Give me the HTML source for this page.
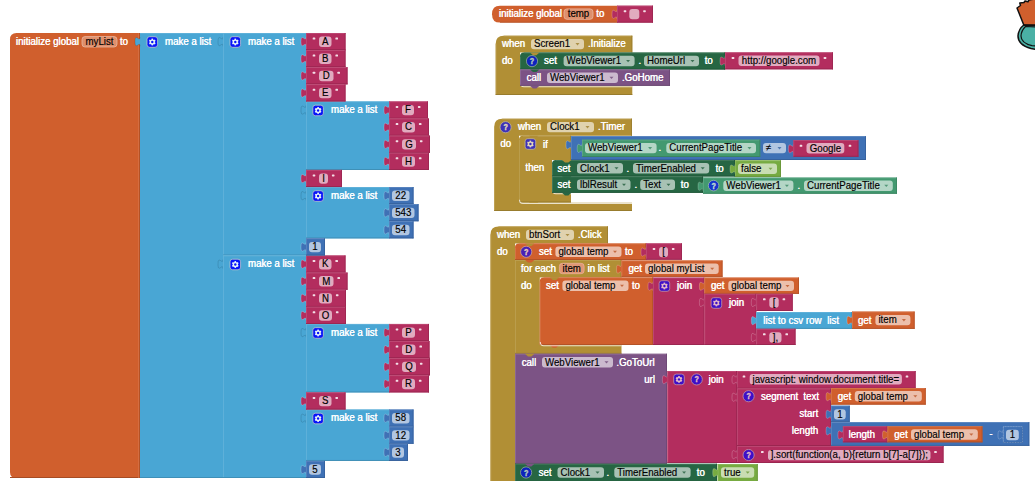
<!DOCTYPE html>
<html><head><meta charset="utf-8"><style>
html,body{margin:0;padding:0;background:#fff;width:1035px;height:481px;overflow:hidden}
svg{display:block}
text{font-family:"Liberation Sans",sans-serif}
</style></head><body>
<svg width="1035" height="481" viewBox="0 0 1035 481">
<path d="M16.5,33 L140,33 L140,478 L16,478 Q10,478 10,472 L10,39.5 Q10,33 16.5,33 Z" fill="#D05F2D" /><rect x="10" y="477" width="130" height="1" fill="#a64c24" /><rect x="138.2" y="33" width="0.9" height="445" fill="#d67246" /><rect x="139.1" y="33" width="0.9" height="445" fill="#b15126" /><rect x="140" y="33" width="1" height="445" fill="#5fb1d9" /><text transform="translate(15.82,44.6) scale(0.99,1.08)" fill="#fff" font-size="9.8" >initialize global</text><text transform="translate(16.18,44.6) scale(0.99,1.08)" fill="#fff" font-size="9.8" >initialize global</text><rect x="82" y="36.6" width="35" height="10.4" rx="3" ry="3" fill="#de8f6c" stroke="#eab7a0" stroke-width="0.8"/><text transform="translate(99.5,45) scale(0.98,1.08)" fill="#000" stroke="#000" stroke-width="0.15" font-size="9.9" text-anchor="middle" >myList</text><text transform="translate(119.82,44.6) scale(0.99,1.08)" fill="#fff" font-size="9.8" >to</text><text transform="translate(120.18,44.6) scale(0.99,1.08)" fill="#fff" font-size="9.8" >to</text><rect x="140" y="33" width="83" height="445" fill="#49A6D4" /><rect x="140" y="33" width="83" height="0.8" fill="#64b3da" /><rect x="140" y="477.1" width="83" height="0.9" fill="#3e8db4" /><path d="M140,37 C140,43.2 135,32.1 135,41.6 C135,51.2 140,40 140,46.3 L141,46.3 L141,37 Z" fill="#49A6D4" /><path d="M140,37 C140,43.2 135,32.1 135,41.6 C135,51.2 140,40 140,46.3" fill="none" stroke="#000" stroke-opacity="0.2" stroke-width="0.6"/><g transform="translate(146.6,36.3)" opacity="0.88"><rect x="0.4" y="0.4" width="10.6" height="10.6" rx="2.6" fill="#00f" stroke="#ccc" stroke-width="0.8"/><g transform="translate(5.7,5.7)"><rect x="-0.8" y="-3.4" width="1.6" height="6.8" fill="#fff" transform="rotate(0)"/><rect x="-0.8" y="-3.4" width="1.6" height="6.8" fill="#fff" transform="rotate(60)"/><rect x="-0.8" y="-3.4" width="1.6" height="6.8" fill="#fff" transform="rotate(120)"/><circle r="2.6" fill="#fff"/><circle r="1.2" fill="#00f"/></g></g><text transform="translate(164.82,44.6) scale(0.99,1.08)" fill="#fff" font-size="9.8" >make a list</text><text transform="translate(165.18,44.6) scale(0.99,1.08)" fill="#fff" font-size="9.8" >make a list</text><path d="M223,37 C223,43.2 218,32.1 218,41.6 C218,51.2 223,40 223,46.3 L224,46.3 L224,37 Z" fill="#49A6D4" /><path d="M223,37 C223,43.2 218,32.1 218,41.6 C218,51.2 223,40 223,46.3" fill="none" stroke="#000" stroke-opacity="0.2" stroke-width="0.6"/><rect x="223" y="33" width="83" height="222.49" fill="#49A6D4" /><rect x="223" y="33" width="83" height="0.8" fill="#64b3da" /><rect x="223" y="33" width="0.8" height="222.49" fill="#64b3da" /><rect x="223" y="254.59" width="83" height="0.9" fill="#3e8db4" /><g transform="translate(229.6,36.3)" opacity="0.88"><rect x="0.4" y="0.4" width="10.6" height="10.6" rx="2.6" fill="#00f" stroke="#ccc" stroke-width="0.8"/><g transform="translate(5.7,5.7)"><rect x="-0.8" y="-3.4" width="1.6" height="6.8" fill="#fff" transform="rotate(0)"/><rect x="-0.8" y="-3.4" width="1.6" height="6.8" fill="#fff" transform="rotate(60)"/><rect x="-0.8" y="-3.4" width="1.6" height="6.8" fill="#fff" transform="rotate(120)"/><circle r="2.6" fill="#fff"/><circle r="1.2" fill="#00f"/></g></g><text transform="translate(247.82,44.6) scale(0.99,1.08)" fill="#fff" font-size="9.8" >make a list</text><text transform="translate(248.18,44.6) scale(0.99,1.08)" fill="#fff" font-size="9.8" >make a list</text><path d="M223,259.5 C223,265.69 218,254.59 218,264.09 C218,273.69 223,262.5 223,268.79 L224,268.79 L224,259.5 Z" fill="#49A6D4" /><path d="M223,259.5 C223,265.69 218,254.59 218,264.09 C218,273.69 223,262.5 223,268.79" fill="none" stroke="#000" stroke-opacity="0.2" stroke-width="0.6"/><rect x="223" y="255.49" width="83" height="222.51" fill="#49A6D4" /><rect x="223" y="255.49" width="83" height="0.8" fill="#64b3da" /><rect x="223" y="255.49" width="0.8" height="222.51" fill="#64b3da" /><rect x="223" y="477.1" width="83" height="0.9" fill="#3e8db4" /><g transform="translate(229.6,258.79)" opacity="0.88"><rect x="0.4" y="0.4" width="10.6" height="10.6" rx="2.6" fill="#00f" stroke="#ccc" stroke-width="0.8"/><g transform="translate(5.7,5.7)"><rect x="-0.8" y="-3.4" width="1.6" height="6.8" fill="#fff" transform="rotate(0)"/><rect x="-0.8" y="-3.4" width="1.6" height="6.8" fill="#fff" transform="rotate(60)"/><rect x="-0.8" y="-3.4" width="1.6" height="6.8" fill="#fff" transform="rotate(120)"/><circle r="2.6" fill="#fff"/><circle r="1.2" fill="#00f"/></g></g><text transform="translate(247.82,267.09) scale(0.99,1.08)" fill="#fff" font-size="9.8" >make a list</text><text transform="translate(248.18,267.09) scale(0.99,1.08)" fill="#fff" font-size="9.8" >make a list</text><path d="M306,105.46 C306,111.66 301,100.56 301,110.06 C301,119.66 306,108.46 306,114.76 L307,114.76 L307,105.46 Z" fill="#49A6D4" /><path d="M306,105.46 C306,111.66 301,100.56 301,110.06 C301,119.66 306,108.46 306,114.76" fill="none" stroke="#000" stroke-opacity="0.2" stroke-width="0.6"/><rect x="306" y="101.46" width="83" height="68.46" fill="#49A6D4" /><rect x="306" y="101.46" width="83" height="0.8" fill="#64b3da" /><rect x="306" y="101.46" width="0.8" height="68.46" fill="#64b3da" /><rect x="306" y="169.02" width="83" height="0.9" fill="#3e8db4" /><g transform="translate(312.4,104.76)" opacity="0.88"><rect x="0.4" y="0.4" width="10.6" height="10.6" rx="2.6" fill="#00f" stroke="#ccc" stroke-width="0.8"/><g transform="translate(5.7,5.7)"><rect x="-0.8" y="-3.4" width="1.6" height="6.8" fill="#fff" transform="rotate(0)"/><rect x="-0.8" y="-3.4" width="1.6" height="6.8" fill="#fff" transform="rotate(60)"/><rect x="-0.8" y="-3.4" width="1.6" height="6.8" fill="#fff" transform="rotate(120)"/><circle r="2.6" fill="#fff"/><circle r="1.2" fill="#00f"/></g></g><text transform="translate(330.82,113.06) scale(0.99,1.08)" fill="#fff" font-size="9.8" >make a list</text><text transform="translate(331.18,113.06) scale(0.99,1.08)" fill="#fff" font-size="9.8" >make a list</text><path d="M306,191.03 C306,197.23 301,186.13 301,195.63 C301,205.23 306,194.03 306,200.34 L307,200.34 L307,191.03 Z" fill="#49A6D4" /><path d="M306,191.03 C306,197.23 301,186.13 301,195.63 C301,205.23 306,194.03 306,200.34" fill="none" stroke="#000" stroke-opacity="0.2" stroke-width="0.6"/><rect x="306" y="187.03" width="83" height="51.34" fill="#49A6D4" /><rect x="306" y="187.03" width="83" height="0.8" fill="#64b3da" /><rect x="306" y="187.03" width="0.8" height="51.34" fill="#64b3da" /><rect x="306" y="237.48" width="83" height="0.9" fill="#3e8db4" /><g transform="translate(312.4,190.33)" opacity="0.88"><rect x="0.4" y="0.4" width="10.6" height="10.6" rx="2.6" fill="#00f" stroke="#ccc" stroke-width="0.8"/><g transform="translate(5.7,5.7)"><rect x="-0.8" y="-3.4" width="1.6" height="6.8" fill="#fff" transform="rotate(0)"/><rect x="-0.8" y="-3.4" width="1.6" height="6.8" fill="#fff" transform="rotate(60)"/><rect x="-0.8" y="-3.4" width="1.6" height="6.8" fill="#fff" transform="rotate(120)"/><circle r="2.6" fill="#fff"/><circle r="1.2" fill="#00f"/></g></g><text transform="translate(330.82,198.63) scale(0.99,1.08)" fill="#fff" font-size="9.8" >make a list</text><text transform="translate(331.18,198.63) scale(0.99,1.08)" fill="#fff" font-size="9.8" >make a list</text><path d="M306,327.95 C306,334.15 301,323.06 301,332.56 C301,342.15 306,330.95 306,337.25 L307,337.25 L307,327.95 Z" fill="#49A6D4" /><path d="M306,327.95 C306,334.15 301,323.06 301,332.56 C301,342.15 306,330.95 306,337.25" fill="none" stroke="#000" stroke-opacity="0.2" stroke-width="0.6"/><rect x="306" y="323.95" width="83" height="68.46" fill="#49A6D4" /><rect x="306" y="323.95" width="83" height="0.8" fill="#64b3da" /><rect x="306" y="323.95" width="0.8" height="68.46" fill="#64b3da" /><rect x="306" y="391.51" width="83" height="0.9" fill="#3e8db4" /><g transform="translate(312.4,327.25)" opacity="0.88"><rect x="0.4" y="0.4" width="10.6" height="10.6" rx="2.6" fill="#00f" stroke="#ccc" stroke-width="0.8"/><g transform="translate(5.7,5.7)"><rect x="-0.8" y="-3.4" width="1.6" height="6.8" fill="#fff" transform="rotate(0)"/><rect x="-0.8" y="-3.4" width="1.6" height="6.8" fill="#fff" transform="rotate(60)"/><rect x="-0.8" y="-3.4" width="1.6" height="6.8" fill="#fff" transform="rotate(120)"/><circle r="2.6" fill="#fff"/><circle r="1.2" fill="#00f"/></g></g><text transform="translate(330.82,335.56) scale(0.99,1.08)" fill="#fff" font-size="9.8" >make a list</text><text transform="translate(331.18,335.56) scale(0.99,1.08)" fill="#fff" font-size="9.8" >make a list</text><path d="M306,413.53 C306,419.73 301,408.63 301,418.13 C301,427.73 306,416.53 306,422.83 L307,422.83 L307,413.53 Z" fill="#49A6D4" /><path d="M306,413.53 C306,419.73 301,408.63 301,418.13 C301,427.73 306,416.53 306,422.83" fill="none" stroke="#000" stroke-opacity="0.2" stroke-width="0.6"/><rect x="306" y="409.53" width="83" height="51.34" fill="#49A6D4" /><rect x="306" y="409.53" width="83" height="0.8" fill="#64b3da" /><rect x="306" y="409.53" width="0.8" height="51.34" fill="#64b3da" /><rect x="306" y="459.97" width="83" height="0.9" fill="#3e8db4" /><g transform="translate(312.4,412.83)" opacity="0.88"><rect x="0.4" y="0.4" width="10.6" height="10.6" rx="2.6" fill="#00f" stroke="#ccc" stroke-width="0.8"/><g transform="translate(5.7,5.7)"><rect x="-0.8" y="-3.4" width="1.6" height="6.8" fill="#fff" transform="rotate(0)"/><rect x="-0.8" y="-3.4" width="1.6" height="6.8" fill="#fff" transform="rotate(60)"/><rect x="-0.8" y="-3.4" width="1.6" height="6.8" fill="#fff" transform="rotate(120)"/><circle r="2.6" fill="#fff"/><circle r="1.2" fill="#00f"/></g></g><text transform="translate(330.82,421.13) scale(0.99,1.08)" fill="#fff" font-size="9.8" >make a list</text><text transform="translate(331.18,421.13) scale(0.99,1.08)" fill="#fff" font-size="9.8" >make a list</text><path d="M306,37 C306,43.2 301,32.1 301,41.6 C301,51.2 306,40 306,46.3 L307,46.3 L307,37 Z" fill="#B32D5E" /><path d="M306,37 C306,43.2 301,32.1 301,41.6 C301,51.2 306,40 306,46.3" fill="none" stroke="#fff" stroke-opacity="0.35" stroke-width="0.6"/><rect x="306" y="33" width="39.5" height="17.1" fill="#B32D5E" /><rect x="306" y="33" width="39.5" height="0.8" fill="#be4c76" /><rect x="306" y="33" width="0.8" height="17.1" fill="#be4c76" /><rect x="306" y="49.2" width="39.5" height="0.9" fill="#982650" /><rect x="344.6" y="33" width="0.9" height="17.1" fill="#9e2853" /><rect x="312.7" y="37.5" width="2.6" height="2" fill="#fff" opacity="0.85" rx="0.6"/><rect x="319" y="36.5" width="12.5" height="10.4" rx="3" ry="3" fill="#e1abbf" /><text transform="translate(325.25,44.9) scale(0.98,1.08)" fill="#000" stroke="#000" stroke-width="0.15" font-size="9.9" text-anchor="middle" >A</text><rect x="335.4" y="37.5" width="2.6" height="2" fill="#fff" opacity="0.85" rx="0.6"/><path d="M306,54.11 C306,60.31 301,49.21 301,58.71 C301,68.31 306,57.11 306,63.41 L307,63.41 L307,54.11 Z" fill="#B32D5E" /><path d="M306,54.11 C306,60.31 301,49.21 301,58.71 C301,68.31 306,57.11 306,63.41" fill="none" stroke="#fff" stroke-opacity="0.35" stroke-width="0.6"/><rect x="306" y="50.11" width="39.5" height="17.1" fill="#B32D5E" /><rect x="306" y="50.11" width="39.5" height="0.8" fill="#be4c76" /><rect x="306" y="50.11" width="0.8" height="17.1" fill="#be4c76" /><rect x="306" y="66.31" width="39.5" height="0.9" fill="#982650" /><rect x="344.6" y="50.11" width="0.9" height="17.1" fill="#9e2853" /><rect x="312.7" y="54.61" width="2.6" height="2" fill="#fff" opacity="0.85" rx="0.6"/><rect x="319" y="53.61" width="12.5" height="10.4" rx="3" ry="3" fill="#e1abbf" /><text transform="translate(325.25,62.02) scale(0.98,1.08)" fill="#000" stroke="#000" stroke-width="0.15" font-size="9.9" text-anchor="middle" >B</text><rect x="335.4" y="54.61" width="2.6" height="2" fill="#fff" opacity="0.85" rx="0.6"/><path d="M306,71.23 C306,77.43 301,66.33 301,75.83 C301,85.43 306,74.23 306,80.53 L307,80.53 L307,71.23 Z" fill="#B32D5E" /><path d="M306,71.23 C306,77.43 301,66.33 301,75.83 C301,85.43 306,74.23 306,80.53" fill="none" stroke="#fff" stroke-opacity="0.35" stroke-width="0.6"/><rect x="306" y="67.23" width="41.5" height="17.1" fill="#B32D5E" /><rect x="306" y="67.23" width="41.5" height="0.8" fill="#be4c76" /><rect x="306" y="67.23" width="0.8" height="17.1" fill="#be4c76" /><rect x="306" y="83.43" width="41.5" height="0.9" fill="#982650" /><rect x="346.6" y="67.23" width="0.9" height="17.1" fill="#9e2853" /><rect x="312.7" y="71.73" width="2.6" height="2" fill="#fff" opacity="0.85" rx="0.6"/><rect x="319" y="70.73" width="14.5" height="10.4" rx="3" ry="3" fill="#e1abbf" /><text transform="translate(326.25,79.13) scale(0.98,1.08)" fill="#000" stroke="#000" stroke-width="0.15" font-size="9.9" text-anchor="middle" >D</text><rect x="337.4" y="71.73" width="2.6" height="2" fill="#fff" opacity="0.85" rx="0.6"/><path d="M306,88.34 C306,94.55 301,83.44 301,92.94 C301,102.55 306,91.34 306,97.64 L307,97.64 L307,88.34 Z" fill="#B32D5E" /><path d="M306,88.34 C306,94.55 301,83.44 301,92.94 C301,102.55 306,91.34 306,97.64" fill="none" stroke="#fff" stroke-opacity="0.35" stroke-width="0.6"/><rect x="306" y="84.34" width="39.5" height="17.1" fill="#B32D5E" /><rect x="306" y="84.34" width="39.5" height="0.8" fill="#be4c76" /><rect x="306" y="84.34" width="0.8" height="17.1" fill="#be4c76" /><rect x="306" y="100.54" width="39.5" height="0.9" fill="#982650" /><rect x="344.6" y="84.34" width="0.9" height="17.1" fill="#9e2853" /><rect x="312.7" y="88.84" width="2.6" height="2" fill="#fff" opacity="0.85" rx="0.6"/><rect x="319" y="87.84" width="12.5" height="10.4" rx="3" ry="3" fill="#e1abbf" /><text transform="translate(325.25,96.25) scale(0.98,1.08)" fill="#000" stroke="#000" stroke-width="0.15" font-size="9.9" text-anchor="middle" >E</text><rect x="335.4" y="88.84" width="2.6" height="2" fill="#fff" opacity="0.85" rx="0.6"/><path d="M306,173.92 C306,180.12 301,169.02 301,178.52 C301,188.12 306,176.92 306,183.22 L307,183.22 L307,173.92 Z" fill="#B32D5E" /><path d="M306,173.92 C306,180.12 301,169.02 301,178.52 C301,188.12 306,176.92 306,183.22" fill="none" stroke="#fff" stroke-opacity="0.35" stroke-width="0.6"/><rect x="306" y="169.92" width="36" height="17.1" fill="#B32D5E" /><rect x="306" y="169.92" width="36" height="0.8" fill="#be4c76" /><rect x="306" y="169.92" width="0.8" height="17.1" fill="#be4c76" /><rect x="306" y="186.12" width="36" height="0.9" fill="#982650" /><rect x="341.1" y="169.92" width="0.9" height="17.1" fill="#9e2853" /><rect x="312.7" y="174.42" width="2.6" height="2" fill="#fff" opacity="0.85" rx="0.6"/><rect x="319" y="173.42" width="9" height="10.4" rx="3" ry="3" fill="#e1abbf" /><text transform="translate(323.5,181.82) scale(0.98,1.08)" fill="#000" stroke="#000" stroke-width="0.15" font-size="9.9" text-anchor="middle" >I</text><rect x="331.9" y="174.42" width="2.6" height="2" fill="#fff" opacity="0.85" rx="0.6"/><path d="M306,259.5 C306,265.69 301,254.59 301,264.09 C301,273.69 306,262.5 306,268.79 L307,268.79 L307,259.5 Z" fill="#B32D5E" /><path d="M306,259.5 C306,265.69 301,254.59 301,264.09 C301,273.69 306,262.5 306,268.79" fill="none" stroke="#fff" stroke-opacity="0.35" stroke-width="0.6"/><rect x="306" y="255.49" width="39.5" height="17.1" fill="#B32D5E" /><rect x="306" y="255.49" width="39.5" height="0.8" fill="#be4c76" /><rect x="306" y="255.49" width="0.8" height="17.1" fill="#be4c76" /><rect x="306" y="271.69" width="39.5" height="0.9" fill="#982650" /><rect x="344.6" y="255.49" width="0.9" height="17.1" fill="#9e2853" /><rect x="312.7" y="259.99" width="2.6" height="2" fill="#fff" opacity="0.85" rx="0.6"/><rect x="319" y="259" width="12.5" height="10.4" rx="3" ry="3" fill="#e1abbf" /><text transform="translate(325.25,267.39) scale(0.98,1.08)" fill="#000" stroke="#000" stroke-width="0.15" font-size="9.9" text-anchor="middle" >K</text><rect x="335.4" y="259.99" width="2.6" height="2" fill="#fff" opacity="0.85" rx="0.6"/><path d="M306,276.61 C306,282.81 301,271.71 301,281.21 C301,290.81 306,279.61 306,285.91 L307,285.91 L307,276.61 Z" fill="#B32D5E" /><path d="M306,276.61 C306,282.81 301,271.71 301,281.21 C301,290.81 306,279.61 306,285.91" fill="none" stroke="#fff" stroke-opacity="0.35" stroke-width="0.6"/><rect x="306" y="272.61" width="41.5" height="17.1" fill="#B32D5E" /><rect x="306" y="272.61" width="41.5" height="0.8" fill="#be4c76" /><rect x="306" y="272.61" width="0.8" height="17.1" fill="#be4c76" /><rect x="306" y="288.81" width="41.5" height="0.9" fill="#982650" /><rect x="346.6" y="272.61" width="0.9" height="17.1" fill="#9e2853" /><rect x="312.7" y="277.11" width="2.6" height="2" fill="#fff" opacity="0.85" rx="0.6"/><rect x="319" y="276.11" width="14.5" height="10.4" rx="3" ry="3" fill="#e1abbf" /><text transform="translate(326.25,284.51) scale(0.98,1.08)" fill="#000" stroke="#000" stroke-width="0.15" font-size="9.9" text-anchor="middle" >M</text><rect x="337.4" y="277.11" width="2.6" height="2" fill="#fff" opacity="0.85" rx="0.6"/><path d="M306,293.72 C306,299.92 301,288.82 301,298.32 C301,307.92 306,296.72 306,303.02 L307,303.02 L307,293.72 Z" fill="#B32D5E" /><path d="M306,293.72 C306,299.92 301,288.82 301,298.32 C301,307.92 306,296.72 306,303.02" fill="none" stroke="#fff" stroke-opacity="0.35" stroke-width="0.6"/><rect x="306" y="289.72" width="40" height="17.1" fill="#B32D5E" /><rect x="306" y="289.72" width="40" height="0.8" fill="#be4c76" /><rect x="306" y="289.72" width="0.8" height="17.1" fill="#be4c76" /><rect x="306" y="305.93" width="40" height="0.9" fill="#982650" /><rect x="345.1" y="289.72" width="0.9" height="17.1" fill="#9e2853" /><rect x="312.7" y="294.22" width="2.6" height="2" fill="#fff" opacity="0.85" rx="0.6"/><rect x="319" y="293.22" width="13" height="10.4" rx="3" ry="3" fill="#e1abbf" /><text transform="translate(325.5,301.62) scale(0.98,1.08)" fill="#000" stroke="#000" stroke-width="0.15" font-size="9.9" text-anchor="middle" >N</text><rect x="335.9" y="294.22" width="2.6" height="2" fill="#fff" opacity="0.85" rx="0.6"/><path d="M306,310.84 C306,317.04 301,305.94 301,315.44 C301,325.04 306,313.84 306,320.14 L307,320.14 L307,310.84 Z" fill="#B32D5E" /><path d="M306,310.84 C306,317.04 301,305.94 301,315.44 C301,325.04 306,313.84 306,320.14" fill="none" stroke="#fff" stroke-opacity="0.35" stroke-width="0.6"/><rect x="306" y="306.84" width="40" height="17.1" fill="#B32D5E" /><rect x="306" y="306.84" width="40" height="0.8" fill="#be4c76" /><rect x="306" y="306.84" width="0.8" height="17.1" fill="#be4c76" /><rect x="306" y="323.04" width="40" height="0.9" fill="#982650" /><rect x="345.1" y="306.84" width="0.9" height="17.1" fill="#9e2853" /><rect x="312.7" y="311.34" width="2.6" height="2" fill="#fff" opacity="0.85" rx="0.6"/><rect x="319" y="310.34" width="13" height="10.4" rx="3" ry="3" fill="#e1abbf" /><text transform="translate(325.5,318.74) scale(0.98,1.08)" fill="#000" stroke="#000" stroke-width="0.15" font-size="9.9" text-anchor="middle" >O</text><rect x="335.9" y="311.34" width="2.6" height="2" fill="#fff" opacity="0.85" rx="0.6"/><path d="M306,396.41 C306,402.61 301,391.51 301,401.01 C301,410.61 306,399.41 306,405.71 L307,405.71 L307,396.41 Z" fill="#B32D5E" /><path d="M306,396.41 C306,402.61 301,391.51 301,401.01 C301,410.61 306,399.41 306,405.71" fill="none" stroke="#fff" stroke-opacity="0.35" stroke-width="0.6"/><rect x="306" y="392.41" width="39.5" height="17.1" fill="#B32D5E" /><rect x="306" y="392.41" width="39.5" height="0.8" fill="#be4c76" /><rect x="306" y="392.41" width="0.8" height="17.1" fill="#be4c76" /><rect x="306" y="408.62" width="39.5" height="0.9" fill="#982650" /><rect x="344.6" y="392.41" width="0.9" height="17.1" fill="#9e2853" /><rect x="312.7" y="396.91" width="2.6" height="2" fill="#fff" opacity="0.85" rx="0.6"/><rect x="319" y="395.91" width="12.5" height="10.4" rx="3" ry="3" fill="#e1abbf" /><text transform="translate(325.25,404.31) scale(0.98,1.08)" fill="#000" stroke="#000" stroke-width="0.15" font-size="9.9" text-anchor="middle" >S</text><rect x="335.4" y="396.91" width="2.6" height="2" fill="#fff" opacity="0.85" rx="0.6"/><path d="M389,105.46 C389,111.66 384,100.56 384,110.06 C384,119.66 389,108.46 389,114.76 L390,114.76 L390,105.46 Z" fill="#B32D5E" /><path d="M389,105.46 C389,111.66 384,100.56 384,110.06 C384,119.66 389,108.46 389,114.76" fill="none" stroke="#fff" stroke-opacity="0.35" stroke-width="0.6"/><rect x="389" y="101.46" width="39" height="17.1" fill="#B32D5E" /><rect x="389" y="101.46" width="39" height="0.8" fill="#be4c76" /><rect x="389" y="101.46" width="0.8" height="17.1" fill="#be4c76" /><rect x="389" y="117.66" width="39" height="0.9" fill="#982650" /><rect x="427.1" y="101.46" width="0.9" height="17.1" fill="#9e2853" /><rect x="395.7" y="105.96" width="2.6" height="2" fill="#fff" opacity="0.85" rx="0.6"/><rect x="402" y="104.96" width="12" height="10.4" rx="3" ry="3" fill="#e1abbf" /><text transform="translate(408,113.36) scale(0.98,1.08)" fill="#000" stroke="#000" stroke-width="0.15" font-size="9.9" text-anchor="middle" >F</text><rect x="417.9" y="105.96" width="2.6" height="2" fill="#fff" opacity="0.85" rx="0.6"/><path d="M389,122.57 C389,128.77 384,117.67 384,127.17 C384,136.77 389,125.57 389,131.88 L390,131.88 L390,122.57 Z" fill="#B32D5E" /><path d="M389,122.57 C389,128.77 384,117.67 384,127.17 C384,136.77 389,125.57 389,131.88" fill="none" stroke="#fff" stroke-opacity="0.35" stroke-width="0.6"/><rect x="389" y="118.57" width="40" height="17.1" fill="#B32D5E" /><rect x="389" y="118.57" width="40" height="0.8" fill="#be4c76" /><rect x="389" y="118.57" width="0.8" height="17.1" fill="#be4c76" /><rect x="389" y="134.77" width="40" height="0.9" fill="#982650" /><rect x="428.1" y="118.57" width="0.9" height="17.1" fill="#9e2853" /><rect x="395.7" y="123.07" width="2.6" height="2" fill="#fff" opacity="0.85" rx="0.6"/><rect x="402" y="122.07" width="13" height="10.4" rx="3" ry="3" fill="#e1abbf" /><text transform="translate(408.5,130.47) scale(0.98,1.08)" fill="#000" stroke="#000" stroke-width="0.15" font-size="9.9" text-anchor="middle" >C</text><rect x="418.9" y="123.07" width="2.6" height="2" fill="#fff" opacity="0.85" rx="0.6"/><path d="M389,139.69 C389,145.89 384,134.79 384,144.29 C384,153.89 389,142.69 389,148.99 L390,148.99 L390,139.69 Z" fill="#B32D5E" /><path d="M389,139.69 C389,145.89 384,134.79 384,144.29 C384,153.89 389,142.69 389,148.99" fill="none" stroke="#fff" stroke-opacity="0.35" stroke-width="0.6"/><rect x="389" y="135.69" width="41" height="17.1" fill="#B32D5E" /><rect x="389" y="135.69" width="41" height="0.8" fill="#be4c76" /><rect x="389" y="135.69" width="0.8" height="17.1" fill="#be4c76" /><rect x="389" y="151.89" width="41" height="0.9" fill="#982650" /><rect x="429.1" y="135.69" width="0.9" height="17.1" fill="#9e2853" /><rect x="395.7" y="140.19" width="2.6" height="2" fill="#fff" opacity="0.85" rx="0.6"/><rect x="402" y="139.19" width="14" height="10.4" rx="3" ry="3" fill="#e1abbf" /><text transform="translate(409,147.59) scale(0.98,1.08)" fill="#000" stroke="#000" stroke-width="0.15" font-size="9.9" text-anchor="middle" >G</text><rect x="419.9" y="140.19" width="2.6" height="2" fill="#fff" opacity="0.85" rx="0.6"/><path d="M389,156.81 C389,163 384,151.91 384,161.41 C384,171 389,159.81 389,166.11 L390,166.11 L390,156.81 Z" fill="#B32D5E" /><path d="M389,156.81 C389,163 384,151.91 384,161.41 C384,171 389,159.81 389,166.11" fill="none" stroke="#fff" stroke-opacity="0.35" stroke-width="0.6"/><rect x="389" y="152.81" width="40" height="17.1" fill="#B32D5E" /><rect x="389" y="152.81" width="40" height="0.8" fill="#be4c76" /><rect x="389" y="152.81" width="0.8" height="17.1" fill="#be4c76" /><rect x="389" y="169" width="40" height="0.9" fill="#982650" /><rect x="428.1" y="152.81" width="0.9" height="17.1" fill="#9e2853" /><rect x="395.7" y="157.31" width="2.6" height="2" fill="#fff" opacity="0.85" rx="0.6"/><rect x="402" y="156.31" width="13" height="10.4" rx="3" ry="3" fill="#e1abbf" /><text transform="translate(408.5,164.7) scale(0.98,1.08)" fill="#000" stroke="#000" stroke-width="0.15" font-size="9.9" text-anchor="middle" >H</text><rect x="418.9" y="157.31" width="2.6" height="2" fill="#fff" opacity="0.85" rx="0.6"/><path d="M389,327.95 C389,334.15 384,323.06 384,332.56 C384,342.15 389,330.95 389,337.25 L390,337.25 L390,327.95 Z" fill="#B32D5E" /><path d="M389,327.95 C389,334.15 384,323.06 384,332.56 C384,342.15 389,330.95 389,337.25" fill="none" stroke="#fff" stroke-opacity="0.35" stroke-width="0.6"/><rect x="389" y="323.95" width="40" height="17.1" fill="#B32D5E" /><rect x="389" y="323.95" width="40" height="0.8" fill="#be4c76" /><rect x="389" y="323.95" width="0.8" height="17.1" fill="#be4c76" /><rect x="389" y="340.16" width="40" height="0.9" fill="#982650" /><rect x="428.1" y="323.95" width="0.9" height="17.1" fill="#9e2853" /><rect x="395.7" y="328.45" width="2.6" height="2" fill="#fff" opacity="0.85" rx="0.6"/><rect x="402" y="327.45" width="13" height="10.4" rx="3" ry="3" fill="#e1abbf" /><text transform="translate(408.5,335.85) scale(0.98,1.08)" fill="#000" stroke="#000" stroke-width="0.15" font-size="9.9" text-anchor="middle" >P</text><rect x="418.9" y="328.45" width="2.6" height="2" fill="#fff" opacity="0.85" rx="0.6"/><path d="M389,345.07 C389,351.27 384,340.17 384,349.67 C384,359.27 389,348.07 389,354.37 L390,354.37 L390,345.07 Z" fill="#B32D5E" /><path d="M389,345.07 C389,351.27 384,340.17 384,349.67 C384,359.27 389,348.07 389,354.37" fill="none" stroke="#fff" stroke-opacity="0.35" stroke-width="0.6"/><rect x="389" y="341.07" width="40.5" height="17.1" fill="#B32D5E" /><rect x="389" y="341.07" width="40.5" height="0.8" fill="#be4c76" /><rect x="389" y="341.07" width="0.8" height="17.1" fill="#be4c76" /><rect x="389" y="357.27" width="40.5" height="0.9" fill="#982650" /><rect x="428.6" y="341.07" width="0.9" height="17.1" fill="#9e2853" /><rect x="395.7" y="345.57" width="2.6" height="2" fill="#fff" opacity="0.85" rx="0.6"/><rect x="402" y="344.57" width="13.5" height="10.4" rx="3" ry="3" fill="#e1abbf" /><text transform="translate(408.75,352.97) scale(0.98,1.08)" fill="#000" stroke="#000" stroke-width="0.15" font-size="9.9" text-anchor="middle" >D</text><rect x="419.4" y="345.57" width="2.6" height="2" fill="#fff" opacity="0.85" rx="0.6"/><path d="M389,362.18 C389,368.38 384,357.28 384,366.78 C384,376.38 389,365.18 389,371.48 L390,371.48 L390,362.18 Z" fill="#B32D5E" /><path d="M389,362.18 C389,368.38 384,357.28 384,366.78 C384,376.38 389,365.18 389,371.48" fill="none" stroke="#fff" stroke-opacity="0.35" stroke-width="0.6"/><rect x="389" y="358.18" width="41" height="17.1" fill="#B32D5E" /><rect x="389" y="358.18" width="41" height="0.8" fill="#be4c76" /><rect x="389" y="358.18" width="0.8" height="17.1" fill="#be4c76" /><rect x="389" y="374.38" width="41" height="0.9" fill="#982650" /><rect x="429.1" y="358.18" width="0.9" height="17.1" fill="#9e2853" /><rect x="395.7" y="362.68" width="2.6" height="2" fill="#fff" opacity="0.85" rx="0.6"/><rect x="402" y="361.68" width="14" height="10.4" rx="3" ry="3" fill="#e1abbf" /><text transform="translate(409,370.08) scale(0.98,1.08)" fill="#000" stroke="#000" stroke-width="0.15" font-size="9.9" text-anchor="middle" >Q</text><rect x="419.9" y="362.68" width="2.6" height="2" fill="#fff" opacity="0.85" rx="0.6"/><path d="M389,379.3 C389,385.5 384,374.4 384,383.9 C384,393.5 389,382.3 389,388.6 L390,388.6 L390,379.3 Z" fill="#B32D5E" /><path d="M389,379.3 C389,385.5 384,374.4 384,383.9 C384,393.5 389,382.3 389,388.6" fill="none" stroke="#fff" stroke-opacity="0.35" stroke-width="0.6"/><rect x="389" y="375.3" width="40" height="17.1" fill="#B32D5E" /><rect x="389" y="375.3" width="40" height="0.8" fill="#be4c76" /><rect x="389" y="375.3" width="0.8" height="17.1" fill="#be4c76" /><rect x="389" y="391.5" width="40" height="0.9" fill="#982650" /><rect x="428.1" y="375.3" width="0.9" height="17.1" fill="#9e2853" /><rect x="395.7" y="379.8" width="2.6" height="2" fill="#fff" opacity="0.85" rx="0.6"/><rect x="402" y="378.8" width="13" height="10.4" rx="3" ry="3" fill="#e1abbf" /><text transform="translate(408.5,387.2) scale(0.98,1.08)" fill="#000" stroke="#000" stroke-width="0.15" font-size="9.9" text-anchor="middle" >R</text><rect x="418.9" y="379.8" width="2.6" height="2" fill="#fff" opacity="0.85" rx="0.6"/><path d="M306,242.38 C306,248.58 301,237.48 301,246.98 C301,256.58 306,245.38 306,251.68 L307,251.68 L307,242.38 Z" fill="#3F71B5" /><path d="M306,242.38 C306,248.58 301,237.48 301,246.98 C301,256.58 306,245.38 306,251.68" fill="none" stroke="#fff" stroke-opacity="0.35" stroke-width="0.6"/><rect x="306" y="238.38" width="19" height="17.1" fill="#3F71B5" /><rect x="306" y="238.38" width="19" height="0.8" fill="#5c86c0" /><rect x="306" y="238.38" width="0.8" height="17.1" fill="#5c86c0" /><rect x="306" y="254.58" width="19" height="0.9" fill="#36609a" /><rect x="324.1" y="238.38" width="0.9" height="17.1" fill="#37639f" /><rect x="309" y="241.88" width="12" height="10.4" rx="3" ry="3" fill="#b2c6e1" /><text transform="translate(315,250.28) scale(0.98,1.08)" fill="#000" stroke="#000" stroke-width="0.15" font-size="9.9" text-anchor="middle" >1</text><path d="M306,464.87 C306,471.07 301,459.97 301,469.47 C301,479.07 306,467.87 306,474.17 L307,474.17 L307,464.87 Z" fill="#3F71B5" /><path d="M306,464.87 C306,471.07 301,459.97 301,469.47 C301,479.07 306,467.87 306,474.17" fill="none" stroke="#fff" stroke-opacity="0.35" stroke-width="0.6"/><rect x="306" y="460.87" width="19" height="17.1" fill="#3F71B5" /><rect x="306" y="460.87" width="19" height="0.8" fill="#5c86c0" /><rect x="306" y="460.87" width="0.8" height="17.1" fill="#5c86c0" /><rect x="306" y="477.07" width="19" height="0.9" fill="#36609a" /><rect x="324.1" y="460.87" width="0.9" height="17.1" fill="#37639f" /><rect x="309" y="464.37" width="12" height="10.4" rx="3" ry="3" fill="#b2c6e1" /><text transform="translate(315,472.77) scale(0.98,1.08)" fill="#000" stroke="#000" stroke-width="0.15" font-size="9.9" text-anchor="middle" >5</text><path d="M389,191.03 C389,197.23 384,186.13 384,195.63 C384,205.23 389,194.03 389,200.34 L390,200.34 L390,191.03 Z" fill="#3F71B5" /><path d="M389,191.03 C389,197.23 384,186.13 384,195.63 C384,205.23 389,194.03 389,200.34" fill="none" stroke="#fff" stroke-opacity="0.35" stroke-width="0.6"/><rect x="389" y="187.03" width="24.5" height="17.1" fill="#3F71B5" /><rect x="389" y="187.03" width="24.5" height="0.8" fill="#5c86c0" /><rect x="389" y="187.03" width="0.8" height="17.1" fill="#5c86c0" /><rect x="389" y="203.23" width="24.5" height="0.9" fill="#36609a" /><rect x="412.6" y="187.03" width="0.9" height="17.1" fill="#37639f" /><rect x="392" y="190.53" width="17.5" height="10.4" rx="3" ry="3" fill="#b2c6e1" /><text transform="translate(400.75,198.93) scale(0.98,1.08)" fill="#000" stroke="#000" stroke-width="0.15" font-size="9.9" text-anchor="middle" >22</text><path d="M389,208.15 C389,214.35 384,203.25 384,212.75 C384,222.35 389,211.15 389,217.45 L390,217.45 L390,208.15 Z" fill="#3F71B5" /><path d="M389,208.15 C389,214.35 384,203.25 384,212.75 C384,222.35 389,211.15 389,217.45" fill="none" stroke="#fff" stroke-opacity="0.35" stroke-width="0.6"/><rect x="389" y="204.15" width="29.5" height="17.1" fill="#3F71B5" /><rect x="389" y="204.15" width="29.5" height="0.8" fill="#5c86c0" /><rect x="389" y="204.15" width="0.8" height="17.1" fill="#5c86c0" /><rect x="389" y="220.35" width="29.5" height="0.9" fill="#36609a" /><rect x="417.6" y="204.15" width="0.9" height="17.1" fill="#37639f" /><rect x="392" y="207.65" width="22.5" height="10.4" rx="3" ry="3" fill="#b2c6e1" /><text transform="translate(403.25,216.05) scale(0.98,1.08)" fill="#000" stroke="#000" stroke-width="0.15" font-size="9.9" text-anchor="middle" >543</text><path d="M389,225.26 C389,231.46 384,220.36 384,229.86 C384,239.46 389,228.26 389,234.56 L390,234.56 L390,225.26 Z" fill="#3F71B5" /><path d="M389,225.26 C389,231.46 384,220.36 384,229.86 C384,239.46 389,228.26 389,234.56" fill="none" stroke="#fff" stroke-opacity="0.35" stroke-width="0.6"/><rect x="389" y="221.26" width="24.5" height="17.1" fill="#3F71B5" /><rect x="389" y="221.26" width="24.5" height="0.8" fill="#5c86c0" /><rect x="389" y="221.26" width="0.8" height="17.1" fill="#5c86c0" /><rect x="389" y="237.46" width="24.5" height="0.9" fill="#36609a" /><rect x="412.6" y="221.26" width="0.9" height="17.1" fill="#37639f" /><rect x="392" y="224.76" width="17.5" height="10.4" rx="3" ry="3" fill="#b2c6e1" /><text transform="translate(400.75,233.16) scale(0.98,1.08)" fill="#000" stroke="#000" stroke-width="0.15" font-size="9.9" text-anchor="middle" >54</text><path d="M389,413.53 C389,419.73 384,408.63 384,418.13 C384,427.73 389,416.53 389,422.83 L390,422.83 L390,413.53 Z" fill="#3F71B5" /><path d="M389,413.53 C389,419.73 384,408.63 384,418.13 C384,427.73 389,416.53 389,422.83" fill="none" stroke="#fff" stroke-opacity="0.35" stroke-width="0.6"/><rect x="389" y="409.53" width="24.5" height="17.1" fill="#3F71B5" /><rect x="389" y="409.53" width="24.5" height="0.8" fill="#5c86c0" /><rect x="389" y="409.53" width="0.8" height="17.1" fill="#5c86c0" /><rect x="389" y="425.73" width="24.5" height="0.9" fill="#36609a" /><rect x="412.6" y="409.53" width="0.9" height="17.1" fill="#37639f" /><rect x="392" y="413.03" width="17.5" height="10.4" rx="3" ry="3" fill="#b2c6e1" /><text transform="translate(400.75,421.43) scale(0.98,1.08)" fill="#000" stroke="#000" stroke-width="0.15" font-size="9.9" text-anchor="middle" >58</text><path d="M389,430.64 C389,436.84 384,425.75 384,435.25 C384,444.84 389,433.64 389,439.94 L390,439.94 L390,430.64 Z" fill="#3F71B5" /><path d="M389,430.64 C389,436.84 384,425.75 384,435.25 C384,444.84 389,433.64 389,439.94" fill="none" stroke="#fff" stroke-opacity="0.35" stroke-width="0.6"/><rect x="389" y="426.64" width="24.5" height="17.1" fill="#3F71B5" /><rect x="389" y="426.64" width="24.5" height="0.8" fill="#5c86c0" /><rect x="389" y="426.64" width="0.8" height="17.1" fill="#5c86c0" /><rect x="389" y="442.85" width="24.5" height="0.9" fill="#36609a" /><rect x="412.6" y="426.64" width="0.9" height="17.1" fill="#37639f" /><rect x="392" y="430.14" width="17.5" height="10.4" rx="3" ry="3" fill="#b2c6e1" /><text transform="translate(400.75,438.54) scale(0.98,1.08)" fill="#000" stroke="#000" stroke-width="0.15" font-size="9.9" text-anchor="middle" >12</text><path d="M389,447.76 C389,453.96 384,442.86 384,452.36 C384,461.96 389,450.76 389,457.06 L390,457.06 L390,447.76 Z" fill="#3F71B5" /><path d="M389,447.76 C389,453.96 384,442.86 384,452.36 C384,461.96 389,450.76 389,457.06" fill="none" stroke="#fff" stroke-opacity="0.35" stroke-width="0.6"/><rect x="389" y="443.76" width="19" height="17.1" fill="#3F71B5" /><rect x="389" y="443.76" width="19" height="0.8" fill="#5c86c0" /><rect x="389" y="443.76" width="0.8" height="17.1" fill="#5c86c0" /><rect x="389" y="459.96" width="19" height="0.9" fill="#36609a" /><rect x="407.1" y="443.76" width="0.9" height="17.1" fill="#37639f" /><rect x="392" y="447.26" width="12" height="10.4" rx="3" ry="3" fill="#b2c6e1" /><text transform="translate(398,455.66) scale(0.98,1.08)" fill="#000" stroke="#000" stroke-width="0.15" font-size="9.9" text-anchor="middle" >3</text><path d="M500,5.7 L617,5.7 L617,22.6 L500,22.6 Q492,22.6 492,14.15 Q492,5.7 500,5.7 Z" fill="#D05F2D" /><rect x="500" y="21.8" width="117" height="0.8" fill="#b15126" /><text transform="translate(498.82,17.4) scale(0.99,1.08)" fill="#fff" font-size="9.8" >initialize global</text><text transform="translate(499.18,17.4) scale(0.99,1.08)" fill="#fff" font-size="9.8" >initialize global</text><rect x="564" y="8.9" width="29" height="10.4" rx="3" ry="3" fill="#de8f6c" stroke="#eab7a0" stroke-width="0.8"/><text transform="translate(578.5,17.3) scale(0.98,1.08)" fill="#000" stroke="#000" stroke-width="0.15" font-size="9.9" text-anchor="middle" >temp</text><text transform="translate(596.12,17.4) scale(0.99,1.08)" fill="#fff" font-size="9.8" >to</text><text transform="translate(596.48,17.4) scale(0.99,1.08)" fill="#fff" font-size="9.8" >to</text><path d="M617,9.7 C617,15.9 612,4.8 612,14.3 C612,23.9 617,12.7 617,19 L618,19 L618,9.7 Z" fill="#B32D5E" /><path d="M617,9.7 C617,15.9 612,4.8 612,14.3 C612,23.9 617,12.7 617,19" fill="none" stroke="#fff" stroke-opacity="0.35" stroke-width="0.6"/><rect x="617" y="5.7" width="36" height="16.9" fill="#B32D5E" /><rect x="617" y="5.7" width="36" height="0.8" fill="#be4c76" /><rect x="617" y="5.7" width="0.8" height="16.9" fill="#be4c76" /><rect x="617" y="21.7" width="36" height="0.9" fill="#982650" /><rect x="652.1" y="5.7" width="0.9" height="16.9" fill="#9e2853" /><rect x="623.7" y="10.2" width="2.6" height="2" fill="#fff" opacity="0.85" rx="0.6"/><rect x="629.3" y="8.9" width="10" height="10.4" rx="3" ry="3" fill="#e1abbf" /><text transform="translate(634.3,17.3) scale(0.98,1.08)" fill="#000" stroke="#000" stroke-width="0.15" font-size="9.9" text-anchor="middle" ></text><rect x="643.2" y="10.2" width="2.6" height="2" fill="#fff" opacity="0.85" rx="0.6"/><path d="M503.7,35.7 L632.3,35.7 L632.3,52.6 L520,52.6 L520,86 L632.3,86 L632.3,94.9 L495.7,94.9 L495.7,43.7 Q495.7,35.7 503.7,35.7 Z" fill="#B18F35" /><rect x="503.7" y="35.7" width="128.6" height="0.8" fill="#bda053" /><rect x="495.7" y="43.7" width="0.8" height="51.2" fill="#bda053" /><rect x="495.7" y="94" width="136.6" height="0.9" fill="#967a2d" /><rect x="631.4" y="35.7" width="0.9" height="16.9" fill="#9c7e2f" /><path d="M520,83 Q520,87.2 524,87.2 L632.3,87.2 L632.3,86.2 L524,86.2 Q521,86.2 521,83 Z" fill="#fff" opacity="0.75"/><text transform="translate(501.82,47.4) scale(0.99,1.08)" fill="#fff" font-size="9.8" >when</text><text transform="translate(502.18,47.4) scale(0.99,1.08)" fill="#fff" font-size="9.8" >when</text><rect x="531" y="38.9" width="53" height="10.4" rx="3" ry="3" fill="#e0d2ae" /><text transform="translate(534,47.3) scale(0.98,1.08)" fill="#000" stroke="#000" stroke-width="0.15" font-size="9.9" >Screen1</text><path d="M575.5,43.1 L579.5,43.1 L577.5,45.4 Z" fill="#9f8130" opacity="0.8"/><text transform="translate(587.82,47.4) scale(0.99,1.08)" fill="#fff" font-size="9.8" >.Initialize</text><text transform="translate(588.18,47.4) scale(0.99,1.08)" fill="#fff" font-size="9.8" >.Initialize</text><text transform="translate(501.82,64.3) scale(0.99,1.08)" fill="#fff" font-size="9.8" >do</text><text transform="translate(502.18,64.3) scale(0.99,1.08)" fill="#fff" font-size="9.8" >do</text><path d="M524,52.6 L725,52.6 L725,69.5 L520,69.5 L520,56.6 Q520,52.6 524,52.6 Z" fill="#266643" /><rect x="524" y="52.6" width="201" height="0.8" fill="#477d5f" /><rect x="520" y="56.6" width="0.8" height="12.9" fill="#477d5f" /><rect x="520" y="68.6" width="205" height="0.9" fill="#205739" /><rect x="724.1" y="52.6" width="0.9" height="16.9" fill="#215a3b" /><path d="M530,52.5 L533,55.2 L536.4,55.2 L539.4,52.5 Z" fill="#B18F35" /><g opacity="0.65"><circle cx="532" cy="61.1" r="5.6" fill="#00f" stroke="#ccc" stroke-width="0.8"/><text transform="translate(532,64.1) scale(0.85,1)" fill="#fff" stroke="#fff" stroke-width="0.35" font-size="8.4" font-weight="bold" text-anchor="middle">?</text></g><text transform="translate(543.82,64.3) scale(0.99,1.08)" fill="#fff" font-size="9.8" >set</text><text transform="translate(544.18,64.3) scale(0.99,1.08)" fill="#fff" font-size="9.8" >set</text><rect x="563.6" y="55.8" width="71" height="10.4" rx="3" ry="3" fill="#a8c2b4" /><text transform="translate(566.6,64.2) scale(0.98,1.08)" fill="#000" stroke="#000" stroke-width="0.15" font-size="9.9" >WebViewer1</text><path d="M626.1,60 L630.1,60 L628.1,62.3 Z" fill="#225c3c" opacity="0.8"/><text transform="translate(638.32,64.3) scale(0.99,1.08)" fill="#fff" font-size="9.8" >.</text><text transform="translate(638.68,64.3) scale(0.99,1.08)" fill="#fff" font-size="9.8" >.</text><rect x="644" y="55.8" width="55" height="10.4" rx="3" ry="3" fill="#a8c2b4" /><text transform="translate(647,64.2) scale(0.98,1.08)" fill="#000" stroke="#000" stroke-width="0.15" font-size="9.9" >HomeUrl</text><path d="M690.5,60 L694.5,60 L692.5,62.3 Z" fill="#225c3c" opacity="0.8"/><text transform="translate(704.52,64.3) scale(0.99,1.08)" fill="#fff" font-size="9.8" >to</text><text transform="translate(704.88,64.3) scale(0.99,1.08)" fill="#fff" font-size="9.8" >to</text><path d="M725,56.4 C725,62.6 720,51.5 720,61 C720,70.6 725,59.4 725,65.7 L726,65.7 L726,56.4 Z" fill="#B32D5E" /><path d="M725,56.4 C725,62.6 720,51.5 720,61 C720,70.6 725,59.4 725,65.7" fill="none" stroke="#fff" stroke-opacity="0.35" stroke-width="0.6"/><rect x="725" y="52.4" width="108" height="16.9" fill="#B32D5E" /><rect x="725" y="52.4" width="108" height="0.8" fill="#be4c76" /><rect x="725" y="52.4" width="0.8" height="16.9" fill="#be4c76" /><rect x="725" y="68.4" width="108" height="0.9" fill="#982650" /><rect x="832.1" y="52.4" width="0.9" height="16.9" fill="#9e2853" /><rect x="731.7" y="57" width="2.6" height="2" fill="#fff" opacity="0.85" rx="0.6"/><rect x="738.5" y="55.6" width="81" height="10.4" rx="3" ry="3" fill="#e1abbf" /><text transform="translate(779,64) scale(0.98,1.08)" fill="#000" stroke="#000" stroke-width="0.15" font-size="9.9" text-anchor="middle" >http://google.com</text><rect x="823.7" y="57" width="2.6" height="2" fill="#fff" opacity="0.85" rx="0.6"/><path d="M520,69.5 L670,69.5 L670,85.8 L520,85.8 L520,69.5 Q520,69.5 520,69.5 Z" fill="#7C5385" /><rect x="520" y="69.5" width="150" height="0.8" fill="#906d97" /><rect x="520" y="69.5" width="0.8" height="16.3" fill="#906d97" /><rect x="520" y="84.9" width="150" height="0.9" fill="#694771" /><rect x="669.1" y="69.5" width="0.9" height="16.3" fill="#6d4975" /><path d="M530,69.4 L533,72.1 L536.4,72.1 L539.4,69.4 Z" fill="#266643" /><path d="M530,85.7 L533,88.6 L536.4,88.6 L539.4,85.7 Z" fill="#7C5385" /><text transform="translate(526.42,81) scale(0.99,1.08)" fill="#fff" font-size="9.8" >call</text><text transform="translate(526.78,81) scale(0.99,1.08)" fill="#fff" font-size="9.8" >call</text><rect x="547" y="72.5" width="71" height="10.4" rx="3" ry="3" fill="#cbbace" /><text transform="translate(550,80.9) scale(0.98,1.08)" fill="#000" stroke="#000" stroke-width="0.15" font-size="9.9" >WebViewer1</text><path d="M609.5,76.7 L613.5,76.7 L611.5,79 Z" fill="#704b78" opacity="0.8"/><text transform="translate(621.82,81) scale(0.99,1.08)" fill="#fff" font-size="9.8" >.GoHome</text><text transform="translate(622.18,81) scale(0.99,1.08)" fill="#fff" font-size="9.8" >.GoHome</text><path d="M502.2,118.7 L632,118.7 L632,135.8 L519,135.8 L519,202.8 L632,202.8 L632,211 L494.2,211 L494.2,126.7 Q494.2,118.7 502.2,118.7 Z" fill="#B18F35" /><rect x="502.2" y="118.7" width="129.8" height="0.8" fill="#bda053" /><rect x="494.2" y="126.7" width="0.8" height="84.3" fill="#bda053" /><rect x="494.2" y="210.1" width="137.8" height="0.9" fill="#967a2d" /><rect x="631.1" y="118.7" width="0.9" height="17.1" fill="#9c7e2f" /><g opacity="0.65"><circle cx="505.6" cy="127.2" r="5.6" fill="#00f" stroke="#ccc" stroke-width="0.8"/><text transform="translate(505.6,130.2) scale(0.85,1)" fill="#fff" stroke="#fff" stroke-width="0.35" font-size="8.4" font-weight="bold" text-anchor="middle">?</text></g><text transform="translate(517.82,129.9) scale(0.99,1.08)" fill="#fff" font-size="9.8" >when</text><text transform="translate(518.18,129.9) scale(0.99,1.08)" fill="#fff" font-size="9.8" >when</text><rect x="547" y="121.9" width="47" height="10.4" rx="3" ry="3" fill="#e0d2ae" /><text transform="translate(550,130.3) scale(0.98,1.08)" fill="#000" stroke="#000" stroke-width="0.15" font-size="9.9" >Clock1</text><path d="M585.5,126.1 L589.5,126.1 L587.5,128.4 Z" fill="#9f8130" opacity="0.8"/><text transform="translate(597.82,129.9) scale(0.99,1.08)" fill="#fff" font-size="9.8" >.Timer</text><text transform="translate(598.18,129.9) scale(0.99,1.08)" fill="#fff" font-size="9.8" >.Timer</text><text transform="translate(500.22,146.6) scale(0.99,1.08)" fill="#fff" font-size="9.8" >do</text><text transform="translate(500.58,146.6) scale(0.99,1.08)" fill="#fff" font-size="9.8" >do</text><path d="M523,135.8 L571,135.8 L571,160 L552,160 L552,193 L571,193 L571,202.4 L519,202.4 L519,139.8 Q519,135.8 523,135.8 Z" fill="#B18F35" /><rect x="523" y="135.8" width="48" height="0.8" fill="#bda053" /><rect x="519" y="139.8" width="0.8" height="62.6" fill="#bda053" /><rect x="519" y="201.5" width="52" height="0.9" fill="#967a2d" /><rect x="570.1" y="135.8" width="0.9" height="24.2" fill="#9c7e2f" /><path d="M529,135.7 L532,138.4 L535.4,138.4 L538.4,135.7 Z" fill="#B18F35" /><path d="M552,190 Q552,194.2 556,194.2 L571,194.2 L571,193.2 L556,193.2 Q553,193.2 553,190 Z" fill="#fff" opacity="0.75"/><g transform="translate(524.7,138.3)" opacity="0.65"><rect x="0.4" y="0.4" width="10.6" height="10.6" rx="2.6" fill="#00f" stroke="#ccc" stroke-width="0.8"/><g transform="translate(5.7,5.7)"><rect x="-0.8" y="-3.4" width="1.6" height="6.8" fill="#fff" transform="rotate(0)"/><rect x="-0.8" y="-3.4" width="1.6" height="6.8" fill="#fff" transform="rotate(60)"/><rect x="-0.8" y="-3.4" width="1.6" height="6.8" fill="#fff" transform="rotate(120)"/><circle r="2.6" fill="#fff"/><circle r="1.2" fill="#00f"/></g></g><text transform="translate(542.82,147.6) scale(0.99,1.08)" fill="#fff" font-size="9.8" >if</text><text transform="translate(543.18,147.6) scale(0.99,1.08)" fill="#fff" font-size="9.8" >if</text><text transform="translate(525.22,170.8) scale(0.99,1.08)" fill="#fff" font-size="9.8" >then</text><text transform="translate(525.58,170.8) scale(0.99,1.08)" fill="#fff" font-size="9.8" >then</text><path d="M529,202.3 L532,205.2 L535.4,205.2 L538.4,202.3 Z" fill="#B18F35" /><path d="M519,199.8 Q519,204 523,204 L632,204 L632,203 L523,203 Q520,203 520,199.8 Z" fill="#fff" opacity="0.75"/><path d="M571,140.2 C571,146.4 566,135.3 566,144.8 C566,154.4 571,143.2 571,149.5 L572,149.5 L572,140.2 Z" fill="#3F71B5" /><path d="M571,140.2 C571,146.4 566,135.3 566,144.8 C566,154.4 571,143.2 571,149.5" fill="none" stroke="#fff" stroke-opacity="0.35" stroke-width="0.6"/><rect x="571" y="136.2" width="295" height="23.8" fill="#3F71B5" /><rect x="571" y="136.2" width="295" height="0.8" fill="#5c86c0" /><rect x="571" y="136.2" width="0.8" height="23.8" fill="#5c86c0" /><rect x="571" y="159.1" width="295" height="0.9" fill="#36609a" /><rect x="865.1" y="136.2" width="0.9" height="23.8" fill="#37639f" /><path d="M582.2,143.7 C582.2,149.9 577.2,138.8 577.2,148.3 C577.2,157.9 582.2,146.7 582.2,153 L583.2,153 L583.2,143.7 Z" fill="#439970" /><path d="M582.2,143.7 C582.2,149.9 577.2,138.8 577.2,148.3 C577.2,157.9 582.2,146.7 582.2,153" fill="none" stroke="#fff" stroke-opacity="0.35" stroke-width="0.6"/><rect x="582.2" y="139.7" width="178" height="17.3" fill="#439970" /><rect x="582.2" y="139.7" width="178" height="0.8" fill="#5fa885" /><rect x="582.2" y="139.7" width="0.8" height="17.3" fill="#5fa885" /><rect x="582.2" y="156.1" width="178" height="0.9" fill="#39825f" /><rect x="759.3" y="139.7" width="0.9" height="17.3" fill="#3b8763" /><rect x="585" y="142.9" width="71.6" height="10.4" rx="3" ry="3" fill="#b4d6c6" /><text transform="translate(588,151.3) scale(0.98,1.08)" fill="#000" stroke="#000" stroke-width="0.15" font-size="9.9" >WebViewer1</text><path d="M648.1,147.1 L652.1,147.1 L650.1,149.4 Z" fill="#3c8a65" opacity="0.8"/><text transform="translate(658.32,151.4) scale(0.99,1.08)" fill="#fff" font-size="9.8" >.</text><text transform="translate(658.68,151.4) scale(0.99,1.08)" fill="#fff" font-size="9.8" >.</text><rect x="666.3" y="142.9" width="89.7" height="10.4" rx="3" ry="3" fill="#b4d6c6" /><text transform="translate(669.3,151.3) scale(0.98,1.08)" fill="#000" stroke="#000" stroke-width="0.15" font-size="9.9" >CurrentPageTitle</text><path d="M747.5,147.1 L751.5,147.1 L749.5,149.4 Z" fill="#3c8a65" opacity="0.8"/><rect x="763" y="142.9" width="23" height="10.4" rx="3" ry="3" fill="#b2c6e1" /><text transform="translate(766,151.3) scale(0.98,1.08)" fill="#000" stroke="#000" stroke-width="0.15" font-size="9.9" >≠</text><path d="M777.5,147.1 L781.5,147.1 L779.5,149.4 Z" fill="#3966a3" opacity="0.8"/><path d="M793.4,144.2 C793.4,150.4 788.4,139.3 788.4,148.8 C788.4,158.4 793.4,147.2 793.4,153.5 L794.4,153.5 L794.4,144.2 Z" fill="#B32D5E" /><path d="M793.4,144.2 C793.4,150.4 788.4,139.3 788.4,148.8 C788.4,158.4 793.4,147.2 793.4,153.5" fill="none" stroke="#fff" stroke-opacity="0.35" stroke-width="0.6"/><rect x="793.4" y="140.2" width="65" height="16.5" fill="#B32D5E" /><rect x="793.4" y="140.2" width="65" height="0.8" fill="#be4c76" /><rect x="793.4" y="140.2" width="0.8" height="16.5" fill="#be4c76" /><rect x="793.4" y="155.8" width="65" height="0.9" fill="#982650" /><rect x="857.5" y="140.2" width="0.9" height="16.5" fill="#9e2853" /><rect x="799.7" y="144.8" width="2.6" height="2" fill="#fff" opacity="0.85" rx="0.6"/><rect x="806.5" y="143.1" width="37.8" height="10.4" rx="3" ry="3" fill="#e1abbf" /><text transform="translate(825.4,151.5) scale(0.98,1.08)" fill="#000" stroke="#000" stroke-width="0.15" font-size="9.9" text-anchor="middle" >Google</text><rect x="848.7" y="144.8" width="2.6" height="2" fill="#fff" opacity="0.85" rx="0.6"/><path d="M556,160 L735,160 L735,176.4 L552,176.4 L552,164 Q552,160 556,160 Z" fill="#266643" /><rect x="556" y="160" width="179" height="0.8" fill="#477d5f" /><rect x="552" y="164" width="0.8" height="12.4" fill="#477d5f" /><rect x="552" y="175.5" width="183" height="0.9" fill="#205739" /><rect x="734.1" y="160" width="0.9" height="16.4" fill="#215a3b" /><path d="M562,159.9 L565,162.6 L568.4,162.6 L571.4,159.9 Z" fill="#B18F35" /><text transform="translate(557.32,171.6) scale(0.99,1.08)" fill="#fff" font-size="9.8" >set</text><text transform="translate(557.68,171.6) scale(0.99,1.08)" fill="#fff" font-size="9.8" >set</text><rect x="577" y="163.1" width="46" height="10.4" rx="3" ry="3" fill="#a8c2b4" /><text transform="translate(580,171.5) scale(0.98,1.08)" fill="#000" stroke="#000" stroke-width="0.15" font-size="9.9" >Clock1</text><path d="M614.5,167.3 L618.5,167.3 L616.5,169.6 Z" fill="#225c3c" opacity="0.8"/><text transform="translate(626.32,171.6) scale(0.99,1.08)" fill="#fff" font-size="9.8" >.</text><text transform="translate(626.68,171.6) scale(0.99,1.08)" fill="#fff" font-size="9.8" >.</text><rect x="633" y="163.1" width="76.2" height="10.4" rx="3" ry="3" fill="#a8c2b4" /><text transform="translate(636,171.5) scale(0.98,1.08)" fill="#000" stroke="#000" stroke-width="0.15" font-size="9.9" >TimerEnabled</text><path d="M700.7,167.3 L704.7,167.3 L702.7,169.6 Z" fill="#225c3c" opacity="0.8"/><text transform="translate(715.42,171.6) scale(0.99,1.08)" fill="#fff" font-size="9.8" >to</text><text transform="translate(715.78,171.6) scale(0.99,1.08)" fill="#fff" font-size="9.8" >to</text><path d="M735,164.4 C735,170.6 730,159.5 730,169 C730,178.6 735,167.4 735,173.7 L736,173.7 L736,164.4 Z" fill="#77AB41" /><path d="M735,164.4 C735,170.6 730,159.5 730,169 C730,178.6 735,167.4 735,173.7" fill="none" stroke="#fff" stroke-opacity="0.35" stroke-width="0.6"/><rect x="735" y="160.4" width="46" height="16.4" fill="#77AB41" /><rect x="735" y="160.4" width="46" height="0.8" fill="#8bb85e" /><rect x="735" y="160.4" width="0.8" height="16.4" fill="#8bb85e" /><rect x="735" y="175.9" width="46" height="0.9" fill="#659137" /><rect x="780.1" y="160.4" width="0.9" height="16.4" fill="#699639" /><rect x="738" y="163.5" width="39" height="10.4" rx="3" ry="3" fill="#c9ddb3" /><text transform="translate(741,171.9) scale(0.98,1.08)" fill="#000" stroke="#000" stroke-width="0.15" font-size="9.9" >false</text><path d="M768.5,167.7 L772.5,167.7 L770.5,170 Z" fill="#6b9a3a" opacity="0.8"/><path d="M552,176.4 L703,176.4 L703,192.8 L552,192.8 L552,176.4 Q552,176.4 552,176.4 Z" fill="#266643" /><rect x="552" y="176.4" width="151" height="0.8" fill="#477d5f" /><rect x="552" y="176.4" width="0.8" height="16.4" fill="#477d5f" /><rect x="552" y="191.9" width="151" height="0.9" fill="#205739" /><rect x="702.1" y="176.4" width="0.9" height="16.4" fill="#215a3b" /><path d="M562,176.3 L565,179 L568.4,179 L571.4,176.3 Z" fill="#266643" /><path d="M562,192.7 L565,195.6 L568.4,195.6 L571.4,192.7 Z" fill="#266643" /><text transform="translate(557.32,188) scale(0.99,1.08)" fill="#fff" font-size="9.8" >set</text><text transform="translate(557.68,188) scale(0.99,1.08)" fill="#fff" font-size="9.8" >set</text><rect x="577" y="179.5" width="53.5" height="10.4" rx="3" ry="3" fill="#a8c2b4" /><text transform="translate(580,187.9) scale(0.98,1.08)" fill="#000" stroke="#000" stroke-width="0.15" font-size="9.9" >lblResult</text><path d="M622,183.7 L626,183.7 L624,186 Z" fill="#225c3c" opacity="0.8"/><text transform="translate(634.32,188) scale(0.99,1.08)" fill="#fff" font-size="9.8" >.</text><text transform="translate(634.68,188) scale(0.99,1.08)" fill="#fff" font-size="9.8" >.</text><rect x="640.2" y="179.5" width="34.8" height="10.4" rx="3" ry="3" fill="#a8c2b4" /><text transform="translate(643.2,187.9) scale(0.98,1.08)" fill="#000" stroke="#000" stroke-width="0.15" font-size="9.9" >Text</text><path d="M666.5,183.7 L670.5,183.7 L668.5,186 Z" fill="#225c3c" opacity="0.8"/><text transform="translate(680.62,188) scale(0.99,1.08)" fill="#fff" font-size="9.8" >to</text><text transform="translate(680.98,188) scale(0.99,1.08)" fill="#fff" font-size="9.8" >to</text><path d="M703,181.6 C703,187.8 698,176.7 698,186.2 C698,195.8 703,184.6 703,190.9 L704,190.9 L704,181.6 Z" fill="#439970" /><path d="M703,181.6 C703,187.8 698,176.7 698,186.2 C698,195.8 703,184.6 703,190.9" fill="none" stroke="#fff" stroke-opacity="0.35" stroke-width="0.6"/><rect x="703" y="177.6" width="194" height="16.1" fill="#439970" /><rect x="703" y="177.6" width="194" height="0.8" fill="#5fa885" /><rect x="703" y="177.6" width="0.8" height="16.1" fill="#5fa885" /><rect x="703" y="192.8" width="194" height="0.9" fill="#39825f" /><rect x="896.1" y="177.6" width="0.9" height="16.1" fill="#3b8763" /><g opacity="0.65"><circle cx="713.6" cy="185.6" r="5.3" fill="#00f" stroke="#ccc" stroke-width="0.8"/><text transform="translate(713.6,188.6) scale(0.85,1)" fill="#fff" stroke="#fff" stroke-width="0.35" font-size="8.4" font-weight="bold" text-anchor="middle">?</text></g><rect x="723.3" y="180.5" width="70.1" height="10.4" rx="3" ry="3" fill="#b4d6c6" /><text transform="translate(726.3,188.9) scale(0.98,1.08)" fill="#000" stroke="#000" stroke-width="0.15" font-size="9.9" >WebViewer1</text><path d="M784.9,184.7 L788.9,184.7 L786.9,187 Z" fill="#3c8a65" opacity="0.8"/><text transform="translate(797.32,189) scale(0.99,1.08)" fill="#fff" font-size="9.8" >.</text><text transform="translate(797.68,189) scale(0.99,1.08)" fill="#fff" font-size="9.8" >.</text><rect x="804" y="180.5" width="88.8" height="10.4" rx="3" ry="3" fill="#b4d6c6" /><text transform="translate(807,188.9) scale(0.98,1.08)" fill="#000" stroke="#000" stroke-width="0.15" font-size="9.9" >CurrentPageTitle</text><path d="M884.3,184.7 L888.3,184.7 L886.3,187 Z" fill="#3c8a65" opacity="0.8"/><path d="M498.5,226.4 L608,226.4 L608,243.5 L515,243.5 L515,543.5 L608,543.5 L608,543.5 L490.5,543.5 L490.5,234.4 Q490.5,226.4 498.5,226.4 Z" fill="#B18F35" /><rect x="498.5" y="226.4" width="109.5" height="0.8" fill="#bda053" /><rect x="490.5" y="234.4" width="0.8" height="309.1" fill="#bda053" /><rect x="607.1" y="226.4" width="0.9" height="17.1" fill="#9c7e2f" /><text transform="translate(496.82,238.4) scale(0.99,1.08)" fill="#fff" font-size="9.8" >when</text><text transform="translate(497.18,238.4) scale(0.99,1.08)" fill="#fff" font-size="9.8" >when</text><rect x="526" y="229.7" width="48" height="10.4" rx="3" ry="3" fill="#e0d2ae" /><text transform="translate(529,238.1) scale(0.98,1.08)" fill="#000" stroke="#000" stroke-width="0.15" font-size="9.9" >btnSort</text><path d="M565.5,233.9 L569.5,233.9 L567.5,236.2 Z" fill="#9f8130" opacity="0.8"/><text transform="translate(577.82,238.4) scale(0.99,1.08)" fill="#fff" font-size="9.8" >.Click</text><text transform="translate(578.18,238.4) scale(0.99,1.08)" fill="#fff" font-size="9.8" >.Click</text><text transform="translate(496.82,255.2) scale(0.99,1.08)" fill="#fff" font-size="9.8" >do</text><text transform="translate(497.18,255.2) scale(0.99,1.08)" fill="#fff" font-size="9.8" >do</text><path d="M519,243.5 L646,243.5 L646,260 L515,260 L515,247.5 Q515,243.5 519,243.5 Z" fill="#D05F2D" /><rect x="519" y="243.5" width="127" height="0.8" fill="#d7774c" /><rect x="515" y="247.5" width="0.8" height="12.5" fill="#d7774c" /><rect x="515" y="259.1" width="131" height="0.9" fill="#b15126" /><rect x="645.1" y="243.5" width="0.9" height="16.5" fill="#b75428" /><path d="M525,243.4 L528,246.1 L531.4,246.1 L534.4,243.4 Z" fill="#B18F35" /><g opacity="0.65"><circle cx="526.2" cy="251.8" r="5.6" fill="#00f" stroke="#ccc" stroke-width="0.8"/><text transform="translate(526.2,254.8) scale(0.85,1)" fill="#fff" stroke="#fff" stroke-width="0.35" font-size="8.4" font-weight="bold" text-anchor="middle">?</text></g><text transform="translate(538.82,255.2) scale(0.99,1.08)" fill="#fff" font-size="9.8" >set</text><text transform="translate(539.18,255.2) scale(0.99,1.08)" fill="#fff" font-size="9.8" >set</text><rect x="555.4" y="246.6" width="66.1" height="10.4" rx="3" ry="3" fill="#ecbfab" /><text transform="translate(558.4,255) scale(0.98,1.08)" fill="#000" stroke="#000" stroke-width="0.15" font-size="9.9" >global temp</text><path d="M613,250.8 L617,250.8 L615,253.1 Z" fill="#bb5628" opacity="0.8"/><text transform="translate(624.82,255.2) scale(0.99,1.08)" fill="#fff" font-size="9.8" >to</text><text transform="translate(625.18,255.2) scale(0.99,1.08)" fill="#fff" font-size="9.8" >to</text><path d="M646,247.4 C646,253.6 641,242.5 641,252 C641,261.6 646,250.4 646,256.7 L647,256.7 L647,247.4 Z" fill="#B32D5E" /><path d="M646,247.4 C646,253.6 641,242.5 641,252 C641,261.6 646,250.4 646,256.7" fill="none" stroke="#fff" stroke-opacity="0.35" stroke-width="0.6"/><rect x="646" y="243.4" width="36" height="16.3" fill="#B32D5E" /><rect x="646" y="243.4" width="36" height="0.8" fill="#be4c76" /><rect x="646" y="243.4" width="0.8" height="16.3" fill="#be4c76" /><rect x="646" y="258.8" width="36" height="0.9" fill="#982650" /><rect x="681.1" y="243.4" width="0.9" height="16.3" fill="#9e2853" /><rect x="652.7" y="247.9" width="2.6" height="2" fill="#fff" opacity="0.85" rx="0.6"/><rect x="659" y="246.9" width="9" height="10.4" rx="3" ry="3" fill="#e1abbf" /><text transform="translate(663.5,255.3) scale(0.98,1.08)" fill="#000" stroke="#000" stroke-width="0.15" font-size="9.9" text-anchor="middle" >[</text><rect x="671.9" y="247.9" width="2.6" height="2" fill="#fff" opacity="0.85" rx="0.6"/><path d="M515,260 L621.5,260 L621.5,277.4 L539.8,277.4 L539.8,345 L621.5,345 L621.5,353.8 L515,353.8 L515,260 Q515,260 515,260 Z" fill="#B18F35" /><rect x="515" y="260" width="106.5" height="0.8" fill="#bda053" /><rect x="515" y="260" width="0.8" height="93.8" fill="#bda053" /><rect x="515" y="352.9" width="106.5" height="0.9" fill="#967a2d" /><rect x="620.6" y="260" width="0.9" height="17.4" fill="#9c7e2f" /><path d="M525,259.9 L528,262.6 L531.4,262.6 L534.4,259.9 Z" fill="#D05F2D" /><text transform="translate(520.82,272) scale(0.99,1.08)" fill="#fff" font-size="9.8" >for each</text><text transform="translate(521.18,272) scale(0.99,1.08)" fill="#fff" font-size="9.8" >for each</text><rect x="559.4" y="263.3" width="24.7" height="10.4" rx="3" ry="3" fill="#e09776" stroke="#e8af96" stroke-width="0.8"/><text transform="translate(571.75,271.7) scale(0.98,1.08)" fill="#000" stroke="#000" stroke-width="0.15" font-size="9.9" text-anchor="middle" >item</text><text transform="translate(587.42,272) scale(0.99,1.08)" fill="#fff" font-size="9.8" >in list</text><text transform="translate(587.78,272) scale(0.99,1.08)" fill="#fff" font-size="9.8" >in list</text><path d="M621.5,264.5 C621.5,270.7 616.5,259.6 616.5,269.1 C616.5,278.7 621.5,267.5 621.5,273.8 L622.5,273.8 L622.5,264.5 Z" fill="#D05F2D" /><path d="M621.5,264.5 C621.5,270.7 616.5,259.6 616.5,269.1 C616.5,278.7 621.5,267.5 621.5,273.8" fill="none" stroke="#fff" stroke-opacity="0.35" stroke-width="0.6"/><rect x="621.5" y="260.5" width="101" height="16.3" fill="#D05F2D" /><rect x="621.5" y="260.5" width="101" height="0.8" fill="#d7774c" /><rect x="621.5" y="260.5" width="0.8" height="16.3" fill="#d7774c" /><rect x="621.5" y="275.9" width="101" height="0.9" fill="#b15126" /><rect x="721.6" y="260.5" width="0.9" height="16.3" fill="#b75428" /><text transform="translate(628.32,272) scale(0.99,1.08)" fill="#fff" font-size="9.8" >get</text><text transform="translate(628.68,272) scale(0.99,1.08)" fill="#fff" font-size="9.8" >get</text><rect x="645" y="263.5" width="73.7" height="10.4" rx="3" ry="3" fill="#ecbfab" /><text transform="translate(648,271.9) scale(0.98,1.08)" fill="#000" stroke="#000" stroke-width="0.15" font-size="9.9" >global myList</text><path d="M710.2,267.7 L714.2,267.7 L712.2,270 Z" fill="#bb5628" opacity="0.8"/><text transform="translate(520.82,288.8) scale(0.99,1.08)" fill="#fff" font-size="9.8" >do</text><text transform="translate(521.18,288.8) scale(0.99,1.08)" fill="#fff" font-size="9.8" >do</text><path d="M543.8,277.4 L653,277.4 L653,345 L539.8,345 L539.8,281.4 Q539.8,277.4 543.8,277.4 Z" fill="#D05F2D" /><rect x="543.8" y="277.4" width="109.2" height="0.8" fill="#d7774c" /><rect x="539.8" y="281.4" width="0.8" height="63.6" fill="#d7774c" /><rect x="539.8" y="344.1" width="113.2" height="0.9" fill="#b15126" /><rect x="652.1" y="277.4" width="0.9" height="67.6" fill="#b75428" /><path d="M549.8,277.3 L552.8,280 L556.2,280 L559.2,277.3 Z" fill="#B18F35" /><path d="M549.8,344.9 L552.8,347.8 L556.2,347.8 L559.2,344.9 Z" fill="#D05F2D" /><path d="M539.8,342 Q539.8,346.2 543.8,346.2 L621.5,346.2 L621.5,345.2 L543.8,345.2 Q540.8,345.2 540.8,342 Z" fill="#fff" opacity="0.75"/><text transform="translate(545.82,288.8) scale(0.99,1.08)" fill="#fff" font-size="9.8" >set</text><text transform="translate(546.18,288.8) scale(0.99,1.08)" fill="#fff" font-size="9.8" >set</text><rect x="562.4" y="280.5" width="66.1" height="10.4" rx="3" ry="3" fill="#ecbfab" /><text transform="translate(565.4,288.9) scale(0.98,1.08)" fill="#000" stroke="#000" stroke-width="0.15" font-size="9.9" >global temp</text><path d="M620,284.7 L624,284.7 L622,287 Z" fill="#bb5628" opacity="0.8"/><text transform="translate(631.82,288.8) scale(0.99,1.08)" fill="#fff" font-size="9.8" >to</text><text transform="translate(632.18,288.8) scale(0.99,1.08)" fill="#fff" font-size="9.8" >to</text><path d="M653,281.6 C653,287.8 648,276.7 648,286.2 C648,295.8 653,284.6 653,290.9 L654,290.9 L654,281.6 Z" fill="#B32D5E" /><path d="M653,281.6 C653,287.8 648,276.7 648,286.2 C648,295.8 653,284.6 653,290.9" fill="none" stroke="#fff" stroke-opacity="0.35" stroke-width="0.6"/><rect x="653" y="277.6" width="51.4" height="67.4" fill="#B32D5E" /><rect x="653" y="277.6" width="51.4" height="0.8" fill="#be4c76" /><rect x="653" y="277.6" width="0.8" height="67.4" fill="#be4c76" /><rect x="653" y="344.1" width="51.4" height="0.9" fill="#982650" /><rect x="703.5" y="277.6" width="0.9" height="67.4" fill="#9e2853" /><g transform="translate(658.7,280.3)" opacity="0.65"><rect x="0.4" y="0.4" width="10.6" height="10.6" rx="2.6" fill="#00f" stroke="#ccc" stroke-width="0.8"/><g transform="translate(5.7,5.7)"><rect x="-0.8" y="-3.4" width="1.6" height="6.8" fill="#fff" transform="rotate(0)"/><rect x="-0.8" y="-3.4" width="1.6" height="6.8" fill="#fff" transform="rotate(60)"/><rect x="-0.8" y="-3.4" width="1.6" height="6.8" fill="#fff" transform="rotate(120)"/><circle r="2.6" fill="#fff"/><circle r="1.2" fill="#00f"/></g></g><text transform="translate(676.82,289.2) scale(0.99,1.08)" fill="#fff" font-size="9.8" >join</text><text transform="translate(677.18,289.2) scale(0.99,1.08)" fill="#fff" font-size="9.8" >join</text><path d="M704.4,281.6 C704.4,287.8 699.4,276.7 699.4,286.2 C699.4,295.8 704.4,284.6 704.4,290.9 L705.4,290.9 L705.4,281.6 Z" fill="#D05F2D" /><path d="M704.4,281.6 C704.4,287.8 699.4,276.7 699.4,286.2 C699.4,295.8 704.4,284.6 704.4,290.9" fill="none" stroke="#fff" stroke-opacity="0.35" stroke-width="0.6"/><rect x="704.4" y="277.6" width="94.6" height="16.2" fill="#D05F2D" /><rect x="704.4" y="277.6" width="94.6" height="0.8" fill="#d7774c" /><rect x="704.4" y="277.6" width="0.8" height="16.2" fill="#d7774c" /><rect x="704.4" y="292.9" width="94.6" height="0.9" fill="#b15126" /><rect x="798.1" y="277.6" width="0.9" height="16.2" fill="#b75428" /><text transform="translate(710.82,289.2) scale(0.99,1.08)" fill="#fff" font-size="9.8" >get</text><text transform="translate(711.18,289.2) scale(0.99,1.08)" fill="#fff" font-size="9.8" >get</text><rect x="728.3" y="280.7" width="65.7" height="10.4" rx="3" ry="3" fill="#ecbfab" /><text transform="translate(731.3,289.1) scale(0.98,1.08)" fill="#000" stroke="#000" stroke-width="0.15" font-size="9.9" >global temp</text><path d="M785.5,284.9 L789.5,284.9 L787.5,287.2 Z" fill="#bb5628" opacity="0.8"/><path d="M704.4,297.8 C704.4,304 699.4,292.9 699.4,302.4 C699.4,312 704.4,300.8 704.4,307.1 L705.4,307.1 L705.4,297.8 Z" fill="#B32D5E" /><path d="M704.4,297.8 C704.4,304 699.4,292.9 699.4,302.4 C699.4,312 704.4,300.8 704.4,307.1" fill="none" stroke="#fff" stroke-opacity="0.35" stroke-width="0.6"/><rect x="704.4" y="293.8" width="51.9" height="51.2" fill="#B32D5E" /><rect x="704.4" y="293.8" width="51.9" height="0.8" fill="#be4c76" /><rect x="704.4" y="293.8" width="0.8" height="51.2" fill="#be4c76" /><rect x="704.4" y="344.1" width="51.9" height="0.9" fill="#982650" /><rect x="755.4" y="293.8" width="0.9" height="51.2" fill="#9e2853" /><g transform="translate(710.7,297.3)" opacity="0.65"><rect x="0.4" y="0.4" width="10.6" height="10.6" rx="2.6" fill="#00f" stroke="#ccc" stroke-width="0.8"/><g transform="translate(5.7,5.7)"><rect x="-0.8" y="-3.4" width="1.6" height="6.8" fill="#fff" transform="rotate(0)"/><rect x="-0.8" y="-3.4" width="1.6" height="6.8" fill="#fff" transform="rotate(60)"/><rect x="-0.8" y="-3.4" width="1.6" height="6.8" fill="#fff" transform="rotate(120)"/><circle r="2.6" fill="#fff"/><circle r="1.2" fill="#00f"/></g></g><text transform="translate(728.82,306.4) scale(0.99,1.08)" fill="#fff" font-size="9.8" >join</text><text transform="translate(729.18,306.4) scale(0.99,1.08)" fill="#fff" font-size="9.8" >join</text><path d="M756.3,297.8 C756.3,304 751.3,292.9 751.3,302.4 C751.3,312 756.3,300.8 756.3,307.1 L757.3,307.1 L757.3,297.8 Z" fill="#B32D5E" /><path d="M756.3,297.8 C756.3,304 751.3,292.9 751.3,302.4 C751.3,312 756.3,300.8 756.3,307.1" fill="none" stroke="#fff" stroke-opacity="0.35" stroke-width="0.6"/><rect x="756.3" y="293.8" width="36.4" height="17.2" fill="#B32D5E" /><rect x="756.3" y="293.8" width="36.4" height="0.8" fill="#be4c76" /><rect x="756.3" y="293.8" width="0.8" height="17.2" fill="#be4c76" /><rect x="756.3" y="310.1" width="36.4" height="0.9" fill="#982650" /><rect x="791.8" y="293.8" width="0.9" height="17.2" fill="#9e2853" /><rect x="763" y="298.3" width="2.6" height="2" fill="#fff" opacity="0.85" rx="0.6"/><rect x="769.3" y="297.3" width="9.4" height="10.4" rx="3" ry="3" fill="#e1abbf" /><text transform="translate(774,305.7) scale(0.98,1.08)" fill="#000" stroke="#000" stroke-width="0.15" font-size="9.9" text-anchor="middle" >[</text><rect x="782.6" y="298.3" width="2.6" height="2" fill="#fff" opacity="0.85" rx="0.6"/><path d="M756.3,316 C756.3,322.2 751.3,311.1 751.3,320.6 C751.3,330.2 756.3,319 756.3,325.3 L757.3,325.3 L757.3,316 Z" fill="#49A6D4" /><path d="M756.3,316 C756.3,322.2 751.3,311.1 751.3,320.6 C751.3,330.2 756.3,319 756.3,325.3" fill="none" stroke="#fff" stroke-opacity="0.35" stroke-width="0.6"/><rect x="756.3" y="312" width="95.7" height="16.8" fill="#49A6D4" /><rect x="756.3" y="312" width="95.7" height="0.8" fill="#64b3da" /><rect x="756.3" y="312" width="0.8" height="16.8" fill="#64b3da" /><rect x="756.3" y="327.9" width="95.7" height="0.9" fill="#3e8db4" /><rect x="851.1" y="312" width="0.9" height="16.8" fill="#4092bb" /><text transform="translate(763.12,323.6) scale(0.99,1.08)" fill="#fff" font-size="9.8" >list to csv row</text><text transform="translate(763.48,323.6) scale(0.99,1.08)" fill="#fff" font-size="9.8" >list to csv row</text><text transform="translate(827.02,323.6) scale(0.99,1.08)" fill="#fff" font-size="9.8" >list</text><text transform="translate(827.38,323.6) scale(0.99,1.08)" fill="#fff" font-size="9.8" >list</text><path d="M852,315.6 C852,321.8 847,310.7 847,320.2 C847,329.8 852,318.6 852,324.9 L853,324.9 L853,315.6 Z" fill="#D05F2D" /><path d="M852,315.6 C852,321.8 847,310.7 847,320.2 C847,329.8 852,318.6 852,324.9" fill="none" stroke="#fff" stroke-opacity="0.35" stroke-width="0.6"/><rect x="852" y="311.6" width="62.6" height="17.2" fill="#D05F2D" /><rect x="852" y="311.6" width="62.6" height="0.8" fill="#d7774c" /><rect x="852" y="311.6" width="0.8" height="17.2" fill="#d7774c" /><rect x="852" y="327.9" width="62.6" height="0.9" fill="#b15126" /><rect x="913.7" y="311.6" width="0.9" height="17.2" fill="#b75428" /><text transform="translate(857.82,323.6) scale(0.99,1.08)" fill="#fff" font-size="9.8" >get</text><text transform="translate(858.18,323.6) scale(0.99,1.08)" fill="#fff" font-size="9.8" >get</text><rect x="875.4" y="314.9" width="35" height="10.4" rx="3" ry="3" fill="#ecbfab" /><text transform="translate(878.4,323.3) scale(0.98,1.08)" fill="#000" stroke="#000" stroke-width="0.15" font-size="9.9" >item</text><path d="M901.9,319.1 L905.9,319.1 L903.9,321.4 Z" fill="#bb5628" opacity="0.8"/><path d="M756.3,332.8 C756.3,339 751.3,327.9 751.3,337.4 C751.3,347 756.3,335.8 756.3,342.1 L757.3,342.1 L757.3,332.8 Z" fill="#B32D5E" /><path d="M756.3,332.8 C756.3,339 751.3,327.9 751.3,337.4 C751.3,347 756.3,335.8 756.3,342.1" fill="none" stroke="#fff" stroke-opacity="0.35" stroke-width="0.6"/><rect x="756.3" y="328.8" width="39.2" height="16.2" fill="#B32D5E" /><rect x="756.3" y="328.8" width="39.2" height="0.8" fill="#be4c76" /><rect x="756.3" y="328.8" width="0.8" height="16.2" fill="#be4c76" /><rect x="756.3" y="344.1" width="39.2" height="0.9" fill="#982650" /><rect x="794.6" y="328.8" width="0.9" height="16.2" fill="#9e2853" /><rect x="763" y="333.3" width="2.6" height="2" fill="#fff" opacity="0.85" rx="0.6"/><rect x="769.3" y="332.3" width="12.2" height="10.4" rx="3" ry="3" fill="#e1abbf" /><text transform="translate(775.4,340.7) scale(0.98,1.08)" fill="#000" stroke="#000" stroke-width="0.15" font-size="9.9" text-anchor="middle" >],</text><rect x="785.4" y="333.3" width="2.6" height="2" fill="#fff" opacity="0.85" rx="0.6"/><path d="M515,353.8 L667,353.8 L667,463.8 L515,463.8 L515,353.8 Q515,353.8 515,353.8 Z" fill="#7C5385" /><rect x="515" y="353.8" width="152" height="0.8" fill="#906d97" /><rect x="515" y="353.8" width="0.8" height="110" fill="#906d97" /><rect x="515" y="462.9" width="152" height="0.9" fill="#694771" /><rect x="666.1" y="353.8" width="0.9" height="110" fill="#6d4975" /><path d="M525,353.7 L528,356.4 L531.4,356.4 L534.4,353.7 Z" fill="#B18F35" /><text transform="translate(521.52,365.8) scale(0.99,1.08)" fill="#fff" font-size="9.8" >call</text><text transform="translate(521.88,365.8) scale(0.99,1.08)" fill="#fff" font-size="9.8" >call</text><rect x="542" y="357.1" width="71" height="10.4" rx="3" ry="3" fill="#cbbace" /><text transform="translate(545,365.5) scale(0.98,1.08)" fill="#000" stroke="#000" stroke-width="0.15" font-size="9.9" >WebViewer1</text><path d="M604.5,361.3 L608.5,361.3 L606.5,363.6 Z" fill="#704b78" opacity="0.8"/><text transform="translate(616.22,365.8) scale(0.99,1.08)" fill="#fff" font-size="9.8" >.GoToUrl</text><text transform="translate(616.58,365.8) scale(0.99,1.08)" fill="#fff" font-size="9.8" >.GoToUrl</text><text transform="translate(654.82,382.6) scale(0.99,1.08)" fill="#fff" font-size="9.8" text-anchor="end" >url</text><text transform="translate(655.18,382.6) scale(0.99,1.08)" fill="#fff" font-size="9.8" text-anchor="end" >url</text><path d="M667.4,375 C667.4,381.2 662.4,370.1 662.4,379.6 C662.4,389.2 667.4,378 667.4,384.3 L668.4,384.3 L668.4,375 Z" fill="#B32D5E" /><path d="M667.4,375 C667.4,381.2 662.4,370.1 662.4,379.6 C662.4,389.2 667.4,378 667.4,384.3" fill="none" stroke="#fff" stroke-opacity="0.35" stroke-width="0.6"/><rect x="667.4" y="371" width="69.6" height="92" fill="#B32D5E" /><rect x="667.4" y="371" width="69.6" height="0.8" fill="#be4c76" /><rect x="667.4" y="371" width="0.8" height="92" fill="#be4c76" /><rect x="667.4" y="462.1" width="69.6" height="0.9" fill="#982650" /><rect x="736.1" y="371" width="0.9" height="92" fill="#9e2853" /><g transform="translate(673.3,373.7)" opacity="0.65"><rect x="0.4" y="0.4" width="10.6" height="10.6" rx="2.6" fill="#00f" stroke="#ccc" stroke-width="0.8"/><g transform="translate(5.7,5.7)"><rect x="-0.8" y="-3.4" width="1.6" height="6.8" fill="#fff" transform="rotate(0)"/><rect x="-0.8" y="-3.4" width="1.6" height="6.8" fill="#fff" transform="rotate(60)"/><rect x="-0.8" y="-3.4" width="1.6" height="6.8" fill="#fff" transform="rotate(120)"/><circle r="2.6" fill="#fff"/><circle r="1.2" fill="#00f"/></g></g><g opacity="0.65"><circle cx="696.7" cy="379.4" r="5.6" fill="#00f" stroke="#ccc" stroke-width="0.8"/><text transform="translate(696.7,382.4) scale(0.85,1)" fill="#fff" stroke="#fff" stroke-width="0.35" font-size="8.4" font-weight="bold" text-anchor="middle">?</text></g><text transform="translate(708.42,382.6) scale(0.99,1.08)" fill="#fff" font-size="9.8" >join</text><text transform="translate(708.78,382.6) scale(0.99,1.08)" fill="#fff" font-size="9.8" >join</text><path d="M737,375 C737,381.2 732,370.1 732,379.6 C732,389.2 737,378 737,384.3 L738,384.3 L738,375 Z" fill="#B32D5E" /><path d="M737,375 C737,381.2 732,370.1 732,379.6 C732,389.2 737,378 737,384.3" fill="none" stroke="#fff" stroke-opacity="0.35" stroke-width="0.6"/><rect x="737" y="371" width="178.6" height="17.6" fill="#B32D5E" /><rect x="737" y="371" width="178.6" height="0.8" fill="#be4c76" /><rect x="737" y="371" width="0.8" height="17.6" fill="#be4c76" /><rect x="737" y="387.7" width="178.6" height="0.9" fill="#982650" /><rect x="914.7" y="371" width="0.9" height="17.6" fill="#9e2853" /><rect x="742.7" y="375.6" width="2.6" height="2" fill="#fff" opacity="0.85" rx="0.6"/><rect x="749.7" y="374.1" width="152.2" height="10.4" rx="3" ry="3" fill="#e1abbf" /><text transform="translate(825.8,382.5) scale(0.98,1.08)" fill="#000" stroke="#000" stroke-width="0.15" font-size="9.9" text-anchor="middle" >javascript: window.document.title=</text><rect x="905.7" y="375.6" width="2.6" height="2" fill="#fff" opacity="0.85" rx="0.6"/><path d="M737,392.6 C737,398.8 732,387.7 732,397.2 C732,406.8 737,395.6 737,401.9 L738,401.9 L738,392.6 Z" fill="#B32D5E" /><path d="M737,392.6 C737,398.8 732,387.7 732,397.2 C732,406.8 737,395.6 737,401.9" fill="none" stroke="#fff" stroke-opacity="0.35" stroke-width="0.6"/><rect x="737" y="388.6" width="94" height="57.4" fill="#B32D5E" /><rect x="737" y="388.6" width="94" height="0.8" fill="#be4c76" /><rect x="737" y="388.6" width="0.8" height="57.4" fill="#be4c76" /><rect x="737" y="445.1" width="94" height="0.9" fill="#982650" /><rect x="830.1" y="388.6" width="0.9" height="57.4" fill="#9e2853" /><g opacity="0.65"><circle cx="748.6" cy="396.2" r="5.6" fill="#00f" stroke="#ccc" stroke-width="0.8"/><text transform="translate(748.6,399.2) scale(0.85,1)" fill="#fff" stroke="#fff" stroke-width="0.35" font-size="8.4" font-weight="bold" text-anchor="middle">?</text></g><text transform="translate(760.82,399.6) scale(0.99,1.08)" fill="#fff" font-size="9.8" >segment</text><text transform="translate(761.18,399.6) scale(0.99,1.08)" fill="#fff" font-size="9.8" >segment</text><text transform="translate(803.22,399.6) scale(0.99,1.08)" fill="#fff" font-size="9.8" >text</text><text transform="translate(803.58,399.6) scale(0.99,1.08)" fill="#fff" font-size="9.8" >text</text><text transform="translate(818.12,417) scale(0.99,1.08)" fill="#fff" font-size="9.8" text-anchor="end" >start</text><text transform="translate(818.48,417) scale(0.99,1.08)" fill="#fff" font-size="9.8" text-anchor="end" >start</text><text transform="translate(818.12,434.2) scale(0.99,1.08)" fill="#fff" font-size="9.8" text-anchor="end" >length</text><text transform="translate(818.48,434.2) scale(0.99,1.08)" fill="#fff" font-size="9.8" text-anchor="end" >length</text><path d="M831,392 C831,398.2 826,387.1 826,396.6 C826,406.2 831,395 831,401.3 L832,401.3 L832,392 Z" fill="#D05F2D" /><path d="M831,392 C831,398.2 826,387.1 826,396.6 C826,406.2 831,395 831,401.3" fill="none" stroke="#fff" stroke-opacity="0.35" stroke-width="0.6"/><rect x="831" y="388" width="94.7" height="16.6" fill="#D05F2D" /><rect x="831" y="388" width="94.7" height="0.8" fill="#d7774c" /><rect x="831" y="388" width="0.8" height="16.6" fill="#d7774c" /><rect x="831" y="403.7" width="94.7" height="0.9" fill="#b15126" /><rect x="924.8" y="388" width="0.9" height="16.6" fill="#b75428" /><text transform="translate(837.62,399.6) scale(0.99,1.08)" fill="#fff" font-size="9.8" >get</text><text transform="translate(837.98,399.6) scale(0.99,1.08)" fill="#fff" font-size="9.8" >get</text><rect x="854.8" y="391.1" width="67" height="10.4" rx="3" ry="3" fill="#ecbfab" /><text transform="translate(857.8,399.5) scale(0.98,1.08)" fill="#000" stroke="#000" stroke-width="0.15" font-size="9.9" >global temp</text><path d="M913.3,395.3 L917.3,395.3 L915.3,397.6 Z" fill="#bb5628" opacity="0.8"/><path d="M831,409.7 C831,415.9 826,404.8 826,414.3 C826,423.9 831,412.7 831,419 L832,419 L832,409.7 Z" fill="#3F71B5" /><path d="M831,409.7 C831,415.9 826,404.8 826,414.3 C826,423.9 831,412.7 831,419" fill="none" stroke="#fff" stroke-opacity="0.35" stroke-width="0.6"/><rect x="831" y="405.7" width="18.7" height="16.1" fill="#3F71B5" /><rect x="831" y="405.7" width="18.7" height="0.8" fill="#5c86c0" /><rect x="831" y="405.7" width="0.8" height="16.1" fill="#5c86c0" /><rect x="831" y="420.9" width="18.7" height="0.9" fill="#36609a" /><rect x="848.8" y="405.7" width="0.9" height="16.1" fill="#37639f" /><rect x="834" y="409.2" width="11.7" height="10.4" rx="3" ry="3" fill="#b2c6e1" /><text transform="translate(839.85,417.6) scale(0.98,1.08)" fill="#000" stroke="#000" stroke-width="0.15" font-size="9.9" text-anchor="middle" >1</text><path d="M831,426.2 C831,432.4 826,421.3 826,430.8 C826,440.4 831,429.2 831,435.5 L832,435.5 L832,426.2 Z" fill="#3F71B5" /><path d="M831,426.2 C831,432.4 826,421.3 826,430.8 C826,440.4 831,429.2 831,435.5" fill="none" stroke="#fff" stroke-opacity="0.35" stroke-width="0.6"/><rect x="831" y="422.2" width="198.3" height="23.6" fill="#3F71B5" /><rect x="831" y="422.2" width="198.3" height="0.8" fill="#5c86c0" /><rect x="831" y="422.2" width="0.8" height="23.6" fill="#5c86c0" /><rect x="831" y="444.9" width="198.3" height="0.9" fill="#36609a" /><rect x="1028.4" y="422.2" width="0.9" height="23.6" fill="#37639f" /><path d="M842.9,430.3 C842.9,436.5 837.9,425.4 837.9,434.9 C837.9,444.5 842.9,433.3 842.9,439.6 L843.9,439.6 L843.9,430.3 Z" fill="#B32D5E" /><path d="M842.9,430.3 C842.9,436.5 837.9,425.4 837.9,434.9 C837.9,444.5 842.9,433.3 842.9,439.6" fill="none" stroke="#fff" stroke-opacity="0.35" stroke-width="0.6"/><rect x="842.9" y="426.3" width="44.6" height="16" fill="#B32D5E" /><rect x="842.9" y="426.3" width="44.6" height="0.8" fill="#be4c76" /><rect x="842.9" y="426.3" width="0.8" height="16" fill="#be4c76" /><rect x="842.9" y="441.4" width="44.6" height="0.9" fill="#982650" /><rect x="886.6" y="426.3" width="0.9" height="16" fill="#9e2853" /><text transform="translate(848.42,437.8) scale(0.99,1.08)" fill="#fff" font-size="9.8" >length</text><text transform="translate(848.78,437.8) scale(0.99,1.08)" fill="#fff" font-size="9.8" >length</text><path d="M887.5,430.3 C887.5,436.5 882.5,425.4 882.5,434.9 C882.5,444.5 887.5,433.3 887.5,439.6 L888.5,439.6 L888.5,430.3 Z" fill="#D05F2D" /><path d="M887.5,430.3 C887.5,436.5 882.5,425.4 882.5,434.9 C882.5,444.5 887.5,433.3 887.5,439.6" fill="none" stroke="#fff" stroke-opacity="0.35" stroke-width="0.6"/><rect x="887.5" y="426.3" width="94.9" height="16" fill="#D05F2D" /><rect x="887.5" y="426.3" width="94.9" height="0.8" fill="#d7774c" /><rect x="887.5" y="426.3" width="0.8" height="16" fill="#d7774c" /><rect x="887.5" y="441.4" width="94.9" height="0.9" fill="#b15126" /><rect x="981.5" y="426.3" width="0.9" height="16" fill="#b75428" /><text transform="translate(894.12,437.8) scale(0.99,1.08)" fill="#fff" font-size="9.8" >get</text><text transform="translate(894.48,437.8) scale(0.99,1.08)" fill="#fff" font-size="9.8" >get</text><rect x="911" y="429.3" width="66.8" height="10.4" rx="3" ry="3" fill="#ecbfab" /><text transform="translate(914,437.7) scale(0.98,1.08)" fill="#000" stroke="#000" stroke-width="0.15" font-size="9.9" >global temp</text><path d="M969.3,433.5 L973.3,433.5 L971.3,435.8 Z" fill="#bb5628" opacity="0.8"/><text transform="translate(989.22,437.2) scale(0.99,1.08)" fill="#fff" font-size="9.8" >-</text><text transform="translate(989.58,437.2) scale(0.99,1.08)" fill="#fff" font-size="9.8" >-</text><path d="M1003,430.3 C1003,436.5 998,425.4 998,434.9 C998,444.5 1003,433.3 1003,439.6 L1004,439.6 L1004,430.3 Z" fill="#3F71B5" /><path d="M1003,430.3 C1003,436.5 998,425.4 998,434.9 C998,444.5 1003,433.3 1003,439.6" fill="none" stroke="#fff" stroke-opacity="0.35" stroke-width="0.6"/><rect x="1003" y="426.3" width="19.8" height="16.5" fill="#3F71B5" /><rect x="1003" y="426.3" width="19.8" height="0.8" fill="#5c86c0" /><rect x="1003" y="426.3" width="0.8" height="16.5" fill="#5c86c0" /><rect x="1003" y="441.9" width="19.8" height="0.9" fill="#36609a" /><rect x="1021.9" y="426.3" width="0.9" height="16.5" fill="#37639f" /><rect x="1006" y="429.8" width="12.8" height="10.4" rx="3" ry="3" fill="#b2c6e1" /><text transform="translate(1012.4,438.2) scale(0.98,1.08)" fill="#000" stroke="#000" stroke-width="0.15" font-size="9.9" text-anchor="middle" >1</text><rect x="1003.3" y="426.6" width="19.2" height="15.9" fill="none" stroke="#9fb8da" stroke-width="0.6" stroke-dasharray="1,0.6" opacity="0.8"/><path d="M737,450 C737,456.2 732,445.1 732,454.6 C732,464.2 737,453 737,459.3 L738,459.3 L738,450 Z" fill="#B32D5E" /><path d="M737,450 C737,456.2 732,445.1 732,454.6 C732,464.2 737,453 737,459.3" fill="none" stroke="#fff" stroke-opacity="0.35" stroke-width="0.6"/><rect x="737" y="446" width="206.5" height="17" fill="#B32D5E" /><rect x="737" y="446" width="206.5" height="0.8" fill="#be4c76" /><rect x="737" y="446" width="0.8" height="17" fill="#be4c76" /><rect x="737" y="462.1" width="206.5" height="0.9" fill="#982650" /><rect x="942.6" y="446" width="0.9" height="17" fill="#9e2853" /><g opacity="0.65"><circle cx="748.6" cy="455" r="5.6" fill="#00f" stroke="#ccc" stroke-width="0.8"/><text transform="translate(748.6,458) scale(0.85,1)" fill="#fff" stroke="#fff" stroke-width="0.35" font-size="8.4" font-weight="bold" text-anchor="middle">?</text></g><rect x="761" y="451" width="2.6" height="2" fill="#fff" opacity="0.85" rx="0.6"/><rect x="768" y="449.9" width="162.5" height="10.4" rx="3" ry="3" fill="#e1abbf" /><text transform="translate(849.25,458.3) scale(0.98,1.08)" fill="#000" stroke="#000" stroke-width="0.15" font-size="9.9" text-anchor="middle" >].sort(function(a, b){return b[7]-a[7]});</text><rect x="934.2" y="451" width="2.6" height="2" fill="#fff" opacity="0.85" rx="0.6"/><path d="M515,463.8 L717,463.8 L717,481.8 L515,481.8 L515,463.8 Q515,463.8 515,463.8 Z" fill="#266643" /><rect x="515" y="463.8" width="202" height="0.8" fill="#477d5f" /><rect x="515" y="463.8" width="0.8" height="18" fill="#477d5f" /><rect x="515" y="480.9" width="202" height="0.9" fill="#205739" /><rect x="716.1" y="463.8" width="0.9" height="18" fill="#215a3b" /><path d="M525,463.7 L528,466.4 L531.4,466.4 L534.4,463.7 Z" fill="#7C5385" /><g opacity="0.65"><circle cx="526.1" cy="472.5" r="5.6" fill="#00f" stroke="#ccc" stroke-width="0.8"/><text transform="translate(526.1,475.5) scale(0.85,1)" fill="#fff" stroke="#fff" stroke-width="0.35" font-size="8.4" font-weight="bold" text-anchor="middle">?</text></g><text transform="translate(538.42,476) scale(0.99,1.08)" fill="#fff" font-size="9.8" >set</text><text transform="translate(538.78,476) scale(0.99,1.08)" fill="#fff" font-size="9.8" >set</text><rect x="557.5" y="467.3" width="46.5" height="10.4" rx="3" ry="3" fill="#a8c2b4" /><text transform="translate(560.5,475.7) scale(0.98,1.08)" fill="#000" stroke="#000" stroke-width="0.15" font-size="9.9" >Clock1</text><path d="M595.5,471.5 L599.5,471.5 L597.5,473.8 Z" fill="#225c3c" opacity="0.8"/><text transform="translate(606.32,476) scale(0.99,1.08)" fill="#fff" font-size="9.8" >.</text><text transform="translate(606.68,476) scale(0.99,1.08)" fill="#fff" font-size="9.8" >.</text><rect x="614.3" y="467.3" width="76.3" height="10.4" rx="3" ry="3" fill="#a8c2b4" /><text transform="translate(617.3,475.7) scale(0.98,1.08)" fill="#000" stroke="#000" stroke-width="0.15" font-size="9.9" >TimerEnabled</text><path d="M682.1,471.5 L686.1,471.5 L684.1,473.8 Z" fill="#225c3c" opacity="0.8"/><text transform="translate(696.62,476) scale(0.99,1.08)" fill="#fff" font-size="9.8" >to</text><text transform="translate(696.98,476) scale(0.99,1.08)" fill="#fff" font-size="9.8" >to</text><path d="M717.7,468 C717.7,474.2 712.7,463.1 712.7,472.6 C712.7,482.2 717.7,471 717.7,477.3 L718.7,477.3 L718.7,468 Z" fill="#77AB41" /><path d="M717.7,468 C717.7,474.2 712.7,463.1 712.7,472.6 C712.7,482.2 717.7,471 717.7,477.3" fill="none" stroke="#fff" stroke-opacity="0.35" stroke-width="0.6"/><rect x="717.7" y="464" width="40" height="18" fill="#77AB41" /><rect x="717.7" y="464" width="40" height="0.8" fill="#8bb85e" /><rect x="717.7" y="464" width="0.8" height="18" fill="#8bb85e" /><rect x="717.7" y="481.1" width="40" height="0.9" fill="#659137" /><rect x="756.8" y="464" width="0.9" height="18" fill="#699639" /><rect x="721" y="467.3" width="33.2" height="10.4" rx="3" ry="3" fill="#c9ddb3" /><text transform="translate(724,475.7) scale(0.98,1.08)" fill="#000" stroke="#000" stroke-width="0.15" font-size="9.9" >true</text><path d="M745.7,471.5 L749.7,471.5 L747.7,473.8 Z" fill="#6b9a3a" opacity="0.8"/><g stroke="#111" stroke-width="1.5" stroke-linejoin="round"><path d="M1017,8 L1020.5,5.5 L1019.8,3 L1024,2.5 L1025,1 L1028,1.8 L1029,0 L1040,-2 L1040,25.5 L1023.8,25 Z" fill="#D05F2D"/><path d="M1023.8,25 L1040,25.5 L1040,50 L1031,48.5 Q1018,45 1018,36 Q1018.5,29 1023.8,25 Z" fill="#4AB0A5"/><path d="M1025.5,26.5 L1040,27 L1040,46.5 L1032,45.6 Q1021,43 1021,36 Q1021.3,30.5 1025.5,26.5 Z" fill="#4AB0A5" stroke-width="1.2"/></g>
</svg></body></html>
